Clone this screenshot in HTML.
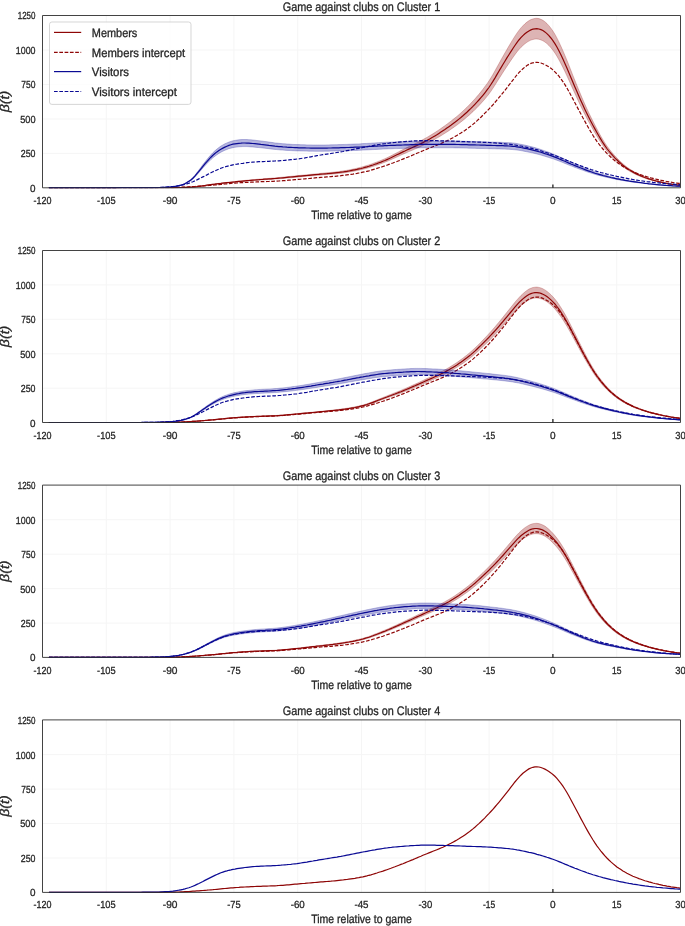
<!DOCTYPE html>
<html lang="en"><head><meta charset="utf-8"><title>Game against clubs</title>
<style>html,body{margin:0;padding:0;background:#fff}svg{display:block}text{font-family:"Liberation Sans",sans-serif;fill:#262626;stroke:#262626;stroke-width:.3px;text-rendering:geometricPrecision}</style></head><body>
<svg width="685" height="926" viewBox="0 0 685 926">
<rect width="685" height="926" fill="#fff"/>
<g>
<path d="M106.3,15.5 V187.8 M170.1,15.5 V187.8 M233.9,15.5 V187.8 M297.7,15.5 V187.8 M361.5,15.5 V187.8 M425.3,15.5 V187.8 M489.1,15.5 V187.8 M552.9,15.5 V187.8 M616.7,15.5 V187.8 M42.5,153.4 H680.5 M42.5,119 H680.5 M42.5,84.5 H680.5 M42.5,50 H680.5" stroke="#f5f5f5" stroke-width="1" fill="none"/>
<clipPath id="c0"><rect x="43" y="15.5" width="637" height="172.8"/></clipPath><g clip-path="url(#c0)" fill="none" stroke-width="1.2">
<path d="M48.9,187.8 50.9,187.8 52.9,187.8 54.9,187.8 56.9,187.8 58.9,187.8 60.9,187.8 62.9,187.8 64.9,187.8 66.9,187.8 68.9,187.8 70.9,187.8 72.9,187.8 74.9,187.8 76.9,187.8 78.9,187.8 80.9,187.8 82.9,187.8 84.9,187.8 86.9,187.8 88.9,187.8 90.9,187.8 92.9,187.8 94.9,187.8 96.9,187.8 98.9,187.8 100.9,187.8 102.9,187.8 104.9,187.8 106.9,187.8 108.9,187.8 110.9,187.8 112.9,187.8 114.9,187.8 116.9,187.8 118.9,187.7 120.9,187.7 122.9,187.7 124.9,187.7 126.9,187.7 128.9,187.7 130.9,187.7 132.9,187.7 134.9,187.7 136.9,187.7 138.9,187.7 140.9,187.7 142.9,187.7 144.9,187.7 146.9,187.7 148.9,187.7 150.9,187.7 152.9,187.7 154.9,187.7 156.9,187.7 158.9,187.7 160.9,187.7 162.9,187.7 164.9,187.7 166.9,187.7 168.9,187.7 170.9,187.6 172.9,187.6 174.9,187.6 176.9,187.5 178.9,187.5 180.9,187.5 182.9,187.4 184.9,187.3 186.9,187.3 188.9,187.2 190.9,187.1 192.9,187 194.9,186.8 196.9,186.6 198.9,186.3 200.9,186 202.9,185.7 204.9,185.4 206.9,185 208.9,184.7 210.9,184.4 212.9,184.1 214.9,183.8 216.9,183.6 218.9,183.3 220.9,183.1 222.9,182.8 224.9,182.6 226.9,182.4 228.9,182.1 230.9,181.9 232.9,181.7 234.9,181.5 236.9,181.3 238.9,181 240.9,180.8 242.9,180.6 244.9,180.4 246.9,180.2 248.9,180 250.9,179.8 252.9,179.7 254.9,179.5 256.9,179.3 258.9,179.1 260.9,179 262.9,178.8 264.9,178.7 266.9,178.5 268.9,178.4 270.9,178.2 272.9,178 274.9,177.9 276.9,177.7 278.9,177.5 280.9,177.3 282.9,177.1 284.9,176.9 286.9,176.7 288.9,176.5 290.9,176.3 292.9,176.1 294.9,175.9 296.9,175.7 298.9,175.5 300.9,175.3 302.9,175.1 304.9,174.9 306.9,174.7 308.9,174.5 310.9,174.3 312.9,174.1 314.9,173.9 316.9,173.7 318.9,173.5 320.9,173.3 322.9,173.1 324.9,172.9 326.9,172.7 328.9,172.6 330.9,172.4 332.9,172.2 334.9,172 336.9,171.7 338.9,171.5 340.9,171.2 342.9,170.9 344.9,170.6 346.9,170.3 348.9,169.9 350.9,169.5 352.9,169.1 354.9,168.7 356.9,168.2 358.9,167.7 360.9,167.2 362.9,166.7 364.9,166.1 366.9,165.5 368.9,164.9 370.9,164.2 372.9,163.5 374.9,162.7 376.9,162 378.9,161.2 380.9,160.4 382.9,159.6 384.9,158.7 386.9,157.8 388.9,156.8 390.9,155.8 392.9,154.8 394.9,153.8 396.9,152.7 398.9,151.7 400.9,150.6 402.9,149.6 404.9,148.6 406.9,147.6 408.9,146.6 410.9,145.7 412.9,144.7 414.9,143.7 416.9,142.7 418.9,141.7 420.9,140.7 422.9,139.6 424.9,138.5 426.9,137.4 428.9,136.2 430.9,135 432.9,133.8 434.9,132.5 436.9,131.2 438.9,129.9 440.9,128.5 442.9,127.1 444.9,125.7 446.9,124.2 448.9,122.7 450.9,121.2 452.9,119.6 454.9,118 456.9,116.4 458.9,114.7 460.9,112.9 462.9,111.1 464.9,109.2 466.9,107.3 468.9,105.3 470.9,103.2 472.9,101.1 474.9,98.9 476.9,96.6 478.9,94.3 480.9,91.8 482.9,89.3 484.9,86.6 486.9,83.9 488.9,81 490.9,77.8 492.9,74.5 494.9,70.9 496.9,67.3 498.9,63.7 500.9,60.1 502.9,56.5 504.9,53 506.9,49.5 508.9,46.1 510.9,42.7 512.9,39.4 514.9,36.2 516.9,33.2 518.9,30.4 520.9,27.9 522.9,25.8 524.9,23.8 526.9,22.1 528.9,20.7 530.9,19.6 532.9,18.9 534.9,18.4 536.9,18.3 538.9,18.6 540.9,19.3 542.9,20.3 544.9,21.7 546.9,23.5 548.9,25.7 550.9,28.2 552.9,31 554.9,34.2 556.9,37.9 558.9,41.9 560.9,46.2 562.9,50.7 564.9,55.4 566.9,60.2 568.9,65.2 570.9,70.3 572.9,75.4 574.9,80.4 576.9,85.4 578.9,90.3 580.9,95.1 582.9,99.8 584.9,104.3 586.9,108.7 588.9,113 590.9,117.1 592.9,121.1 594.9,125.1 596.9,128.9 598.9,132.7 600.9,136.3 602.9,139.7 604.9,142.9 606.9,145.9 608.9,148.6 610.9,151.2 612.9,153.6 614.9,155.8 616.9,157.9 618.9,160 620.9,161.9 622.9,163.7 624.9,165.4 626.9,167 628.9,168.4 630.9,169.7 632.9,171 634.9,172.1 636.9,173.2 638.9,174.2 640.9,175.1 642.9,176 644.9,176.8 646.9,177.6 648.9,178.3 650.9,179 652.9,179.6 654.9,180.2 656.9,180.7 658.9,181.3 660.9,181.8 662.9,182.2 664.9,182.7 666.9,183.1 668.9,183.5 670.9,183.9 672.9,184.2 674.9,184.5 676.9,184.7 678.9,185 680.4,185.1 L680.4,185.4 678.9,185.3 676.9,185.1 674.9,184.9 672.9,184.6 670.9,184.3 668.9,184 666.9,183.7 664.9,183.3 662.9,182.9 660.9,182.5 658.9,182 656.9,181.6 654.9,181.1 652.9,180.6 650.9,180.1 648.9,179.5 646.9,178.9 644.9,178.2 642.9,177.5 640.9,176.7 638.9,175.9 636.9,175 634.9,174 632.9,173 630.9,171.9 628.9,170.8 626.9,169.5 624.9,168.1 622.9,166.6 620.9,165 618.9,163.4 616.9,161.6 614.9,159.7 612.9,157.7 610.9,155.6 608.9,153.4 606.9,151 604.9,148.4 602.9,145.6 600.9,142.6 598.9,139.4 596.9,136.1 594.9,132.7 592.9,129.3 590.9,125.7 588.9,122.1 586.9,118.4 584.9,114.5 582.9,110.5 580.9,106.4 578.9,102.2 576.9,97.9 574.9,93.5 572.9,89.1 570.9,84.7 568.9,80.2 566.9,75.8 564.9,71.5 562.9,67.4 560.9,63.5 558.9,59.7 556.9,56.2 554.9,53 552.9,50.2 550.9,47.7 548.9,45.5 546.9,43.6 544.9,42 542.9,40.8 540.9,39.9 538.9,39.3 536.9,39 534.9,39.1 532.9,39.5 530.9,40.1 528.9,41.1 526.9,42.3 524.9,43.8 522.9,45.5 520.9,47.4 518.9,49.6 516.9,52 514.9,54.7 512.9,57.5 510.9,60.4 508.9,63.4 506.9,66.4 504.9,69.4 502.9,72.5 500.9,75.7 498.9,78.8 496.9,82 494.9,85.2 492.9,88.3 490.9,91.3 488.9,94 486.9,96.6 484.9,99 482.9,101.3 480.9,103.5 478.9,105.7 476.9,107.8 474.9,109.7 472.9,111.7 470.9,113.5 468.9,115.4 466.9,117.1 464.9,118.8 462.9,120.4 460.9,122 458.9,123.6 456.9,125.1 454.9,126.5 452.9,127.9 450.9,129.3 448.9,130.7 446.9,132 444.9,133.3 442.9,134.5 440.9,135.8 438.9,137 436.9,138.1 434.9,139.3 432.9,140.4 430.9,141.5 428.9,142.5 426.9,143.5 424.9,144.5 422.9,145.5 420.9,146.4 418.9,147.3 416.9,148.2 414.9,149.1 412.9,149.9 410.9,150.8 408.9,151.6 406.9,152.5 404.9,153.4 402.9,154.2 400.9,155.1 398.9,156.1 396.9,157 394.9,157.9 392.9,158.8 390.9,159.7 388.9,160.6 386.9,161.4 384.9,162.2 382.9,163 380.9,163.7 378.9,164.4 376.9,165.1 374.9,165.8 372.9,166.4 370.9,167.1 368.9,167.7 366.9,168.2 364.9,168.8 362.9,169.3 360.9,169.7 358.9,170.2 356.9,170.6 354.9,171 352.9,171.4 350.9,171.7 348.9,172.1 346.9,172.4 344.9,172.7 342.9,173 340.9,173.3 338.9,173.5 336.9,173.7 334.9,173.9 332.9,174.1 330.9,174.3 328.9,174.4 326.9,174.6 324.9,174.7 322.9,174.9 320.9,175.1 318.9,175.2 316.9,175.4 314.9,175.6 312.9,175.8 310.9,175.9 308.9,176.1 306.9,176.3 304.9,176.5 302.9,176.6 300.9,176.8 298.9,177 296.9,177.2 294.9,177.3 292.9,177.5 290.9,177.7 288.9,177.9 286.9,178.1 284.9,178.2 282.9,178.4 280.9,178.6 278.9,178.8 276.9,178.9 274.9,179.1 272.9,179.2 270.9,179.4 268.9,179.5 266.9,179.6 264.9,179.8 262.9,179.9 260.9,180 258.9,180.2 256.9,180.3 254.9,180.5 252.9,180.6 250.9,180.8 248.9,181 246.9,181.1 244.9,181.3 242.9,181.5 240.9,181.7 238.9,181.9 236.9,182 234.9,182.2 232.9,182.4 230.9,182.6 228.9,182.8 226.9,183 224.9,183.2 222.9,183.4 220.9,183.7 218.9,183.9 216.9,184.1 214.9,184.3 212.9,184.6 210.9,184.8 208.9,185.1 206.9,185.4 204.9,185.7 202.9,185.9 200.9,186.2 198.9,186.5 196.9,186.7 194.9,186.9 192.9,187.1 190.9,187.2 188.9,187.3 186.9,187.3 184.9,187.4 182.9,187.4 180.9,187.5 178.9,187.5 176.9,187.6 174.9,187.6 172.9,187.6 170.9,187.6 168.9,187.7 166.9,187.7 164.9,187.7 162.9,187.7 160.9,187.7 158.9,187.7 156.9,187.7 154.9,187.7 152.9,187.7 150.9,187.7 148.9,187.7 146.9,187.7 144.9,187.7 142.9,187.7 140.9,187.7 138.9,187.7 136.9,187.7 134.9,187.7 132.9,187.7 130.9,187.7 128.9,187.7 126.9,187.7 124.9,187.7 122.9,187.7 120.9,187.7 118.9,187.7 116.9,187.8 114.9,187.8 112.9,187.8 110.9,187.8 108.9,187.8 106.9,187.8 104.9,187.8 102.9,187.8 100.9,187.8 98.9,187.8 96.9,187.8 94.9,187.8 92.9,187.8 90.9,187.8 88.9,187.8 86.9,187.8 84.9,187.8 82.9,187.8 80.9,187.8 78.9,187.8 76.9,187.8 74.9,187.8 72.9,187.8 70.9,187.8 68.9,187.8 66.9,187.8 64.9,187.8 62.9,187.8 60.9,187.8 58.9,187.8 56.9,187.8 54.9,187.8 52.9,187.8 50.9,187.8 48.9,187.8Z" fill="#8e0606" fill-opacity=".3" stroke="#8e0606" stroke-opacity=".3" stroke-width=".8"/>
<path d="M48.9,187.8 50.9,187.8 52.9,187.8 54.9,187.8 56.9,187.8 58.9,187.8 60.9,187.8 62.9,187.8 64.9,187.8 66.9,187.8 68.9,187.8 70.9,187.8 72.9,187.8 74.9,187.8 76.9,187.8 78.9,187.8 80.9,187.8 82.9,187.8 84.9,187.8 86.9,187.8 88.9,187.8 90.9,187.8 92.9,187.8 94.9,187.8 96.9,187.8 98.9,187.8 100.9,187.8 102.9,187.8 104.9,187.8 106.9,187.8 108.9,187.8 110.9,187.8 112.9,187.8 114.9,187.8 116.9,187.8 118.9,187.7 120.9,187.7 122.9,187.7 124.9,187.7 126.9,187.7 128.9,187.7 130.9,187.7 132.9,187.7 134.9,187.7 136.9,187.7 138.9,187.7 140.9,187.7 142.9,187.7 144.9,187.7 146.9,187.7 148.9,187.7 150.9,187.7 152.9,187.7 154.9,187.7 156.9,187.7 158.9,187.7 160.9,187.7 162.9,187.7 164.9,187.7 166.9,187.7 168.9,187.7 170.9,187.6 172.9,187.6 174.9,187.6 176.9,187.6 178.9,187.5 180.9,187.5 182.9,187.4 184.9,187.4 186.9,187.3 188.9,187.2 190.9,187.1 192.9,187 194.9,186.9 196.9,186.7 198.9,186.4 200.9,186.1 202.9,185.8 204.9,185.5 206.9,185.2 208.9,184.9 210.9,184.6 212.9,184.3 214.9,184.1 216.9,183.8 218.9,183.6 220.9,183.4 222.9,183.1 224.9,182.9 226.9,182.7 228.9,182.5 230.9,182.3 232.9,182.1 234.9,181.9 236.9,181.6 238.9,181.4 240.9,181.3 242.9,181.1 244.9,180.9 246.9,180.7 248.9,180.5 250.9,180.3 252.9,180.1 254.9,180 256.9,179.8 258.9,179.7 260.9,179.5 262.9,179.4 264.9,179.2 266.9,179.1 268.9,178.9 270.9,178.8 272.9,178.6 274.9,178.5 276.9,178.3 278.9,178.1 280.9,178 282.9,177.8 284.9,177.6 286.9,177.4 288.9,177.2 290.9,177 292.9,176.8 294.9,176.6 296.9,176.4 298.9,176.2 300.9,176.1 302.9,175.9 304.9,175.7 306.9,175.5 308.9,175.3 310.9,175.1 312.9,174.9 314.9,174.7 316.9,174.5 318.9,174.4 320.9,174.2 322.9,174 324.9,173.8 326.9,173.7 328.9,173.5 330.9,173.3 332.9,173.1 334.9,172.9 336.9,172.7 338.9,172.5 340.9,172.2 342.9,172 344.9,171.7 346.9,171.4 348.9,171 350.9,170.6 352.9,170.2 354.9,169.8 356.9,169.4 358.9,168.9 360.9,168.5 362.9,168 364.9,167.4 366.9,166.9 368.9,166.3 370.9,165.6 372.9,165 374.9,164.3 376.9,163.6 378.9,162.8 380.9,162.1 382.9,161.3 384.9,160.5 386.9,159.6 388.9,158.7 390.9,157.8 392.9,156.8 394.9,155.8 396.9,154.8 398.9,153.9 400.9,152.9 402.9,151.9 404.9,151 406.9,150 408.9,149.1 410.9,148.2 412.9,147.3 414.9,146.4 416.9,145.5 418.9,144.5 420.9,143.6 422.9,142.6 424.9,141.5 426.9,140.5 428.9,139.4 430.9,138.2 432.9,137.1 434.9,135.9 436.9,134.7 438.9,133.4 440.9,132.1 442.9,130.8 444.9,129.5 446.9,128.1 448.9,126.7 450.9,125.3 452.9,123.8 454.9,122.3 456.9,120.7 458.9,119.1 460.9,117.5 462.9,115.8 464.9,114 466.9,112.2 468.9,110.3 470.9,108.4 472.9,106.4 474.9,104.3 476.9,102.2 478.9,100 480.9,97.7 482.9,95.3 484.9,92.8 486.9,90.2 488.9,87.5 490.9,84.5 492.9,81.4 494.9,78.1 496.9,74.6 498.9,71.2 500.9,67.9 502.9,64.5 504.9,61.2 506.9,57.9 508.9,54.7 510.9,51.6 512.9,48.5 514.9,45.5 516.9,42.6 518.9,40 520.9,37.7 522.9,35.6 524.9,33.8 526.9,32.2 528.9,30.9 530.9,29.9 532.9,29.2 534.9,28.8 536.9,28.7 538.9,29 540.9,29.6 542.9,30.5 544.9,31.9 546.9,33.6 548.9,35.6 550.9,38 552.9,40.6 554.9,43.6 556.9,47 558.9,50.8 560.9,54.8 562.9,59.1 564.9,63.4 566.9,68 568.9,72.7 570.9,77.5 572.9,82.3 574.9,87 576.9,91.6 578.9,96.2 580.9,100.7 582.9,105.1 584.9,109.4 586.9,113.5 588.9,117.5 590.9,121.4 592.9,125.2 594.9,128.9 596.9,132.5 598.9,136 600.9,139.4 602.9,142.7 604.9,145.7 606.9,148.5 608.9,151 610.9,153.4 612.9,155.7 614.9,157.8 616.9,159.8 618.9,161.7 620.9,163.5 622.9,165.2 624.9,166.8 626.9,168.2 628.9,169.6 630.9,170.8 632.9,172 634.9,173.1 636.9,174.1 638.9,175 640.9,175.9 642.9,176.7 644.9,177.5 646.9,178.2 648.9,178.9 650.9,179.5 652.9,180.1 654.9,180.6 656.9,181.2 658.9,181.7 660.9,182.1 662.9,182.6 664.9,183 666.9,183.4 668.9,183.8 670.9,184.1 672.9,184.4 674.9,184.7 676.9,184.9 678.9,185.1 680.4,185.2" stroke="#8e0606"/>
<path d="M48.9,187.8 50.9,187.8 52.9,187.8 54.9,187.8 56.9,187.8 58.9,187.8 60.9,187.8 62.9,187.8 64.9,187.8 66.9,187.8 68.9,187.8 70.9,187.8 72.9,187.8 74.9,187.8 76.9,187.8 78.9,187.8 80.9,187.8 82.9,187.8 84.9,187.8 86.9,187.8 88.9,187.8 90.9,187.8 92.9,187.8 94.9,187.8 96.9,187.8 98.9,187.8 100.9,187.8 102.9,187.8 104.9,187.8 106.9,187.8 108.9,187.8 110.9,187.8 112.9,187.8 114.9,187.8 116.9,187.8 118.9,187.7 120.9,187.7 122.9,187.7 124.9,187.7 126.9,187.7 128.9,187.7 130.9,187.7 132.9,187.7 134.9,187.7 136.9,187.7 138.9,187.7 140.9,187.7 142.9,187.7 144.9,187.7 146.9,187.7 148.9,187.7 150.9,187.7 152.9,187.7 154.9,187.7 156.9,187.7 158.9,187.7 160.9,187.7 162.9,187.7 164.9,187.7 166.9,187.7 168.9,187.7 170.9,187.6 172.9,187.6 174.9,187.5 176.9,187.5 178.9,187.4 180.9,187.3 182.9,187.2 184.9,187.1 186.9,187 188.9,186.9 190.9,186.8 192.9,186.6 194.9,186.5 196.9,186.4 198.9,186.2 200.9,186.1 202.9,185.9 204.9,185.8 206.9,185.6 208.9,185.5 210.9,185.3 212.9,185.1 214.9,184.9 216.9,184.8 218.9,184.6 220.9,184.4 222.9,184.2 224.9,184 226.9,183.8 228.9,183.6 230.9,183.4 232.9,183.2 234.9,183.1 236.9,183 238.9,182.8 240.9,182.7 242.9,182.6 244.9,182.5 246.9,182.4 248.9,182.3 250.9,182.2 252.9,182.1 254.9,182 256.9,181.9 258.9,181.8 260.9,181.7 262.9,181.7 264.9,181.6 266.9,181.5 268.9,181.5 270.9,181.4 272.9,181.3 274.9,181.2 276.9,181.1 278.9,181 280.9,180.9 282.9,180.7 284.9,180.6 286.9,180.4 288.9,180.2 290.9,180.1 292.9,179.9 294.9,179.7 296.9,179.5 298.9,179.3 300.9,179.2 302.9,179 304.9,178.8 306.9,178.6 308.9,178.5 310.9,178.3 312.9,178.1 314.9,177.9 316.9,177.7 318.9,177.6 320.9,177.4 322.9,177.2 324.9,177.1 326.9,176.9 328.9,176.8 330.9,176.6 332.9,176.4 334.9,176.3 336.9,176.1 338.9,175.9 340.9,175.7 342.9,175.4 344.9,175.2 346.9,174.9 348.9,174.7 350.9,174.4 352.9,174.1 354.9,173.7 356.9,173.4 358.9,173 360.9,172.6 362.9,172.2 364.9,171.8 366.9,171.3 368.9,170.8 370.9,170.2 372.9,169.6 374.9,169 376.9,168.4 378.9,167.8 380.9,167.2 382.9,166.5 384.9,165.8 386.9,165.2 388.9,164.4 390.9,163.7 392.9,163 394.9,162.2 396.9,161.5 398.9,160.7 400.9,159.9 402.9,159.1 404.9,158.3 406.9,157.5 408.9,156.7 410.9,155.9 412.9,155 414.9,154.2 416.9,153.3 418.9,152.5 420.9,151.6 422.9,150.8 424.9,149.9 426.9,149.1 428.9,148.3 430.9,147.5 432.9,146.7 434.9,145.9 436.9,145.2 438.9,144.3 440.9,143.5 442.9,142.6 444.9,141.7 446.9,140.8 448.9,139.8 450.9,138.7 452.9,137.7 454.9,136.6 456.9,135.4 458.9,134.2 460.9,133 462.9,131.7 464.9,130.4 466.9,129 468.9,127.5 470.9,126 472.9,124.4 474.9,122.7 476.9,120.9 478.9,119 480.9,117.2 482.9,115.2 484.9,113.2 486.9,111.2 488.9,109.1 490.9,107 492.9,104.8 494.9,102.5 496.9,100.1 498.9,97.7 500.9,95.3 502.9,92.8 504.9,90.3 506.9,87.8 508.9,85.2 510.9,82.7 512.9,80.1 514.9,77.5 516.9,75 518.9,72.7 520.9,70.6 522.9,68.8 524.9,67.1 526.9,65.6 528.9,64.4 530.9,63.4 532.9,62.8 534.9,62.4 536.9,62.3 538.9,62.5 540.9,63 542.9,63.7 544.9,64.6 546.9,65.7 548.9,66.9 550.9,68.3 552.9,69.9 554.9,71.8 556.9,73.9 558.9,76.2 560.9,78.8 562.9,81.6 564.9,84.6 566.9,87.9 568.9,91.5 570.9,95.2 572.9,98.9 574.9,102.7 576.9,106.5 578.9,110.3 580.9,114 582.9,117.8 584.9,121.4 586.9,125 588.9,128.6 590.9,132 592.9,135.3 594.9,138.4 596.9,141.3 598.9,144 600.9,146.6 602.9,149 604.9,151.3 606.9,153.4 608.9,155.4 610.9,157.3 612.9,159.1 614.9,160.8 616.9,162.3 618.9,163.7 620.9,165.1 622.9,166.4 624.9,167.5 626.9,168.7 628.9,169.7 630.9,170.7 632.9,171.6 634.9,172.5 636.9,173.3 638.9,174.1 640.9,174.8 642.9,175.5 644.9,176.1 646.9,176.7 648.9,177.3 650.9,177.9 652.9,178.4 654.9,178.9 656.9,179.4 658.9,179.9 660.9,180.3 662.9,180.7 664.9,181.1 666.9,181.5 668.9,181.9 670.9,182.2 672.9,182.5 674.9,182.8 676.9,183.1 678.9,183.4 680.4,183.5" stroke="#8e0606" stroke-dasharray="3.7 1.6"/>
<path d="M48.9,187.8 50.9,187.8 52.9,187.8 54.9,187.8 56.9,187.8 58.9,187.8 60.9,187.8 62.9,187.8 64.9,187.8 66.9,187.8 68.9,187.8 70.9,187.8 72.9,187.8 74.9,187.8 76.9,187.8 78.9,187.8 80.9,187.8 82.9,187.8 84.9,187.8 86.9,187.8 88.9,187.8 90.9,187.8 92.9,187.8 94.9,187.8 96.9,187.8 98.9,187.8 100.9,187.8 102.9,187.8 104.9,187.8 106.9,187.8 108.9,187.8 110.9,187.8 112.9,187.8 114.9,187.8 116.9,187.8 118.9,187.7 120.9,187.7 122.9,187.7 124.9,187.7 126.9,187.7 128.9,187.7 130.9,187.7 132.9,187.7 134.9,187.7 136.9,187.7 138.9,187.7 140.9,187.7 142.9,187.7 144.9,187.7 146.9,187.7 148.9,187.6 150.9,187.6 152.9,187.6 154.9,187.6 156.9,187.6 158.9,187.5 160.9,187.5 162.9,187.4 164.9,187.3 166.9,187.1 168.9,187 170.9,186.8 172.9,186.6 174.9,186.3 176.9,185.9 178.9,185.5 180.9,185 182.9,184.3 184.9,183.3 186.9,182.2 188.9,180.8 190.9,179.3 192.9,177.4 194.9,175.2 196.9,172.6 198.9,170 200.9,167.3 202.9,164.6 204.9,162.1 206.9,159.5 208.9,157.1 210.9,154.8 212.9,152.7 214.9,150.8 216.9,149.1 218.9,147.5 220.9,146.1 222.9,144.9 224.9,143.8 226.9,142.9 228.9,142.1 230.9,141.4 232.9,140.8 234.9,140.4 236.9,140.1 238.9,139.8 240.9,139.6 242.9,139.5 244.9,139.5 246.9,139.5 248.9,139.7 250.9,139.8 252.9,140 254.9,140.2 256.9,140.5 258.9,140.7 260.9,140.9 262.9,141.2 264.9,141.5 266.9,141.7 268.9,142 270.9,142.3 272.9,142.6 274.9,142.9 276.9,143.1 278.9,143.3 280.9,143.5 282.9,143.7 284.9,143.8 286.9,144 288.9,144.1 290.9,144.3 292.9,144.4 294.9,144.5 296.9,144.6 298.9,144.6 300.9,144.7 302.9,144.7 304.9,144.8 306.9,144.9 308.9,144.9 310.9,144.9 312.9,145 314.9,145 316.9,145 318.9,145 320.9,145 322.9,145 324.9,145 326.9,144.9 328.9,144.9 330.9,144.8 332.9,144.8 334.9,144.7 336.9,144.7 338.9,144.6 340.9,144.6 342.9,144.5 344.9,144.4 346.9,144.4 348.9,144.3 350.9,144.2 352.9,144.1 354.9,144 356.9,143.9 358.9,143.9 360.9,143.8 362.9,143.6 364.9,143.5 366.9,143.4 368.9,143.3 370.9,143.2 372.9,143 374.9,142.9 376.9,142.8 378.9,142.7 380.9,142.5 382.9,142.4 384.9,142.3 386.9,142.2 388.9,142.2 390.9,142.1 392.9,142 394.9,141.9 396.9,141.8 398.9,141.8 400.9,141.7 402.9,141.6 404.9,141.5 406.9,141.5 408.9,141.4 410.9,141.3 412.9,141.2 414.9,141.2 416.9,141.1 418.9,141 420.9,141 422.9,140.9 424.9,140.9 426.9,140.9 428.9,140.9 430.9,140.9 432.9,140.9 434.9,140.9 436.9,140.9 438.9,140.9 440.9,140.9 442.9,140.9 444.9,140.9 446.9,140.9 448.9,140.9 450.9,141 452.9,141 454.9,141 456.9,141.1 458.9,141.1 460.9,141.2 462.9,141.2 464.9,141.3 466.9,141.3 468.9,141.4 470.9,141.4 472.9,141.5 474.9,141.5 476.9,141.6 478.9,141.7 480.9,141.7 482.9,141.8 484.9,141.9 486.9,141.9 488.9,142 490.9,142.1 492.9,142.1 494.9,142.2 496.9,142.2 498.9,142.3 500.9,142.3 502.9,142.4 504.9,142.5 506.9,142.6 508.9,142.7 510.9,142.8 512.9,143 514.9,143.2 516.9,143.5 518.9,143.9 520.9,144.3 522.9,144.7 524.9,145.1 526.9,145.6 528.9,146.1 530.9,146.6 532.9,147.1 534.9,147.6 536.9,148.2 538.9,148.8 540.9,149.5 542.9,150.2 544.9,150.9 546.9,151.6 548.9,152.3 550.9,153.1 552.9,153.9 554.9,154.7 556.9,155.6 558.9,156.4 560.9,157.4 562.9,158.3 564.9,159.3 566.9,160.2 568.9,161.2 570.9,162.1 572.9,163 574.9,163.9 576.9,164.8 578.9,165.6 580.9,166.5 582.9,167.3 584.9,168.2 586.9,169 588.9,169.8 590.9,170.6 592.9,171.3 594.9,172 596.9,172.7 598.9,173.3 600.9,173.9 602.9,174.5 604.9,175.1 606.9,175.6 608.9,176.1 610.9,176.7 612.9,177.1 614.9,177.6 616.9,178.1 618.9,178.5 620.9,178.9 622.9,179.3 624.9,179.7 626.9,180.1 628.9,180.4 630.9,180.8 632.9,181.1 634.9,181.4 636.9,181.8 638.9,182.1 640.9,182.4 642.9,182.6 644.9,182.9 646.9,183.2 648.9,183.5 650.9,183.7 652.9,183.9 654.9,184.2 656.9,184.4 658.9,184.6 660.9,184.8 662.9,184.9 664.9,185.1 666.9,185.3 668.9,185.4 670.9,185.6 672.9,185.7 674.9,185.8 676.9,185.9 678.9,186 680.4,186.1 L680.4,186.3 678.9,186.3 676.9,186.2 674.9,186.1 672.9,186 670.9,185.9 668.9,185.8 666.9,185.6 664.9,185.5 662.9,185.4 660.9,185.2 658.9,185 656.9,184.9 654.9,184.7 652.9,184.5 650.9,184.3 648.9,184.1 646.9,183.9 644.9,183.6 642.9,183.4 640.9,183.1 638.9,182.9 636.9,182.6 634.9,182.4 632.9,182.1 630.9,181.8 628.9,181.5 626.9,181.2 624.9,180.9 622.9,180.5 620.9,180.2 618.9,179.9 616.9,179.5 614.9,179.1 612.9,178.7 610.9,178.3 608.9,177.8 606.9,177.4 604.9,176.9 602.9,176.4 600.9,175.9 598.9,175.4 596.9,174.9 594.9,174.3 592.9,173.7 590.9,173.1 588.9,172.4 586.9,171.8 584.9,171.1 582.9,170.3 580.9,169.6 578.9,168.9 576.9,168.1 574.9,167.4 572.9,166.6 570.9,165.8 568.9,165.1 566.9,164.2 564.9,163.4 562.9,162.6 560.9,161.8 558.9,161 556.9,160.3 554.9,159.5 552.9,158.8 550.9,158.2 548.9,157.5 546.9,156.9 544.9,156.3 542.9,155.7 540.9,155.1 538.9,154.5 536.9,154 534.9,153.5 532.9,153 530.9,152.6 528.9,152.2 526.9,151.8 524.9,151.4 522.9,151 520.9,150.6 518.9,150.3 516.9,150 514.9,149.8 512.9,149.6 510.9,149.4 508.9,149.3 506.9,149.2 504.9,149.1 502.9,149.1 500.9,149 498.9,148.9 496.9,148.9 494.9,148.8 492.9,148.8 490.9,148.7 488.9,148.7 486.9,148.6 484.9,148.6 482.9,148.5 480.9,148.5 478.9,148.4 476.9,148.4 474.9,148.3 472.9,148.3 470.9,148.2 468.9,148.2 466.9,148.1 464.9,148.1 462.9,148 460.9,148 458.9,147.9 456.9,147.9 454.9,147.9 452.9,147.8 450.9,147.8 448.9,147.8 446.9,147.8 444.9,147.8 442.9,147.8 440.9,147.8 438.9,147.8 436.9,147.8 434.9,147.8 432.9,147.8 430.9,147.8 428.9,147.8 426.9,147.8 424.9,147.8 422.9,147.8 420.9,147.8 418.9,147.9 416.9,147.9 414.9,148 412.9,148 410.9,148.1 408.9,148.2 406.9,148.2 404.9,148.3 402.9,148.4 400.9,148.4 398.9,148.5 396.9,148.6 394.9,148.6 392.9,148.7 390.9,148.8 388.9,148.8 386.9,148.9 384.9,149 382.9,149.1 380.9,149.2 378.9,149.3 376.9,149.4 374.9,149.5 372.9,149.6 370.9,149.7 368.9,149.8 366.9,149.9 364.9,150 362.9,150.1 360.9,150.2 358.9,150.3 356.9,150.4 354.9,150.4 352.9,150.5 350.9,150.6 348.9,150.7 346.9,150.7 344.9,150.8 342.9,150.8 340.9,150.9 338.9,150.9 336.9,151 334.9,151 332.9,151.1 330.9,151.1 328.9,151.2 326.9,151.2 324.9,151.2 322.9,151.3 320.9,151.3 318.9,151.3 316.9,151.3 314.9,151.3 312.9,151.2 310.9,151.2 308.9,151.2 306.9,151.1 304.9,151.1 302.9,151 300.9,151 298.9,150.9 296.9,150.9 294.9,150.8 292.9,150.7 290.9,150.6 288.9,150.5 286.9,150.4 284.9,150.3 282.9,150.1 280.9,150 278.9,149.8 276.9,149.6 274.9,149.4 272.9,149.2 270.9,149 268.9,148.7 266.9,148.5 264.9,148.2 262.9,148 260.9,147.8 258.9,147.6 256.9,147.4 254.9,147.2 252.9,147 250.9,146.9 248.9,146.7 246.9,146.6 244.9,146.6 242.9,146.6 240.9,146.7 238.9,146.8 236.9,147.1 234.9,147.3 232.9,147.7 230.9,148.2 228.9,148.7 226.9,149.5 224.9,150.3 222.9,151.2 220.9,152.2 218.9,153.4 216.9,154.8 214.9,156.2 212.9,157.8 210.9,159.6 208.9,161.6 206.9,163.6 204.9,165.8 202.9,168 200.9,170.3 198.9,172.6 196.9,174.9 194.9,177 192.9,178.9 190.9,180.5 188.9,181.9 186.9,183 184.9,184 182.9,184.8 180.9,185.4 178.9,185.8 176.9,186.2 174.9,186.5 172.9,186.7 170.9,186.9 168.9,187.1 166.9,187.2 164.9,187.3 162.9,187.4 160.9,187.5 158.9,187.6 156.9,187.6 154.9,187.6 152.9,187.6 150.9,187.6 148.9,187.7 146.9,187.7 144.9,187.7 142.9,187.7 140.9,187.7 138.9,187.7 136.9,187.7 134.9,187.7 132.9,187.7 130.9,187.7 128.9,187.7 126.9,187.7 124.9,187.7 122.9,187.7 120.9,187.7 118.9,187.7 116.9,187.8 114.9,187.8 112.9,187.8 110.9,187.8 108.9,187.8 106.9,187.8 104.9,187.8 102.9,187.8 100.9,187.8 98.9,187.8 96.9,187.8 94.9,187.8 92.9,187.8 90.9,187.8 88.9,187.8 86.9,187.8 84.9,187.8 82.9,187.8 80.9,187.8 78.9,187.8 76.9,187.8 74.9,187.8 72.9,187.8 70.9,187.8 68.9,187.8 66.9,187.8 64.9,187.8 62.9,187.8 60.9,187.8 58.9,187.8 56.9,187.8 54.9,187.8 52.9,187.8 50.9,187.8 48.9,187.8Z" fill="#0a0a94" fill-opacity=".3" stroke="#0a0a94" stroke-opacity=".3" stroke-width=".8"/>
<path d="M48.9,187.8 50.9,187.8 52.9,187.8 54.9,187.8 56.9,187.8 58.9,187.8 60.9,187.8 62.9,187.8 64.9,187.8 66.9,187.8 68.9,187.8 70.9,187.8 72.9,187.8 74.9,187.8 76.9,187.8 78.9,187.8 80.9,187.8 82.9,187.8 84.9,187.8 86.9,187.8 88.9,187.8 90.9,187.8 92.9,187.8 94.9,187.8 96.9,187.8 98.9,187.8 100.9,187.8 102.9,187.8 104.9,187.8 106.9,187.8 108.9,187.8 110.9,187.8 112.9,187.8 114.9,187.8 116.9,187.8 118.9,187.7 120.9,187.7 122.9,187.7 124.9,187.7 126.9,187.7 128.9,187.7 130.9,187.7 132.9,187.7 134.9,187.7 136.9,187.7 138.9,187.7 140.9,187.7 142.9,187.7 144.9,187.7 146.9,187.7 148.9,187.6 150.9,187.6 152.9,187.6 154.9,187.6 156.9,187.6 158.9,187.5 160.9,187.5 162.9,187.4 164.9,187.3 166.9,187.2 168.9,187 170.9,186.9 172.9,186.6 174.9,186.4 176.9,186.1 178.9,185.7 180.9,185.2 182.9,184.5 184.9,183.7 186.9,182.6 188.9,181.3 190.9,179.9 192.9,178.2 194.9,176.1 196.9,173.7 198.9,171.3 200.9,168.8 202.9,166.3 204.9,163.9 206.9,161.6 208.9,159.3 210.9,157.2 212.9,155.3 214.9,153.5 216.9,151.9 218.9,150.5 220.9,149.2 222.9,148.1 224.9,147.1 226.9,146.2 228.9,145.4 230.9,144.8 232.9,144.2 234.9,143.9 236.9,143.6 238.9,143.3 240.9,143.2 242.9,143 244.9,143 246.9,143.1 248.9,143.2 250.9,143.3 252.9,143.5 254.9,143.7 256.9,143.9 258.9,144.1 260.9,144.4 262.9,144.6 264.9,144.8 266.9,145.1 268.9,145.4 270.9,145.6 272.9,145.9 274.9,146.2 276.9,146.4 278.9,146.6 280.9,146.7 282.9,146.9 284.9,147 286.9,147.2 288.9,147.3 290.9,147.4 292.9,147.5 294.9,147.6 296.9,147.7 298.9,147.8 300.9,147.8 302.9,147.9 304.9,147.9 306.9,148 308.9,148 310.9,148.1 312.9,148.1 314.9,148.1 316.9,148.1 318.9,148.1 320.9,148.1 322.9,148.1 324.9,148.1 326.9,148.1 328.9,148 330.9,148 332.9,147.9 334.9,147.9 336.9,147.8 338.9,147.8 340.9,147.7 342.9,147.7 344.9,147.6 346.9,147.5 348.9,147.5 350.9,147.4 352.9,147.3 354.9,147.2 356.9,147.2 358.9,147.1 360.9,147 362.9,146.9 364.9,146.8 366.9,146.7 368.9,146.5 370.9,146.4 372.9,146.3 374.9,146.2 376.9,146.1 378.9,146 380.9,145.8 382.9,145.8 384.9,145.7 386.9,145.6 388.9,145.5 390.9,145.4 392.9,145.3 394.9,145.3 396.9,145.2 398.9,145.1 400.9,145.1 402.9,145 404.9,144.9 406.9,144.8 408.9,144.8 410.9,144.7 412.9,144.6 414.9,144.6 416.9,144.5 418.9,144.4 420.9,144.4 422.9,144.4 424.9,144.4 426.9,144.4 428.9,144.4 430.9,144.4 432.9,144.4 434.9,144.4 436.9,144.4 438.9,144.4 440.9,144.4 442.9,144.4 444.9,144.4 446.9,144.4 448.9,144.4 450.9,144.4 452.9,144.4 454.9,144.4 456.9,144.5 458.9,144.5 460.9,144.6 462.9,144.6 464.9,144.7 466.9,144.7 468.9,144.8 470.9,144.8 472.9,144.9 474.9,144.9 476.9,145 478.9,145 480.9,145.1 482.9,145.2 484.9,145.2 486.9,145.3 488.9,145.3 490.9,145.4 492.9,145.5 494.9,145.5 496.9,145.6 498.9,145.6 500.9,145.7 502.9,145.7 504.9,145.8 506.9,145.9 508.9,146 510.9,146.1 512.9,146.3 514.9,146.5 516.9,146.8 518.9,147.1 520.9,147.5 522.9,147.8 524.9,148.3 526.9,148.7 528.9,149.1 530.9,149.6 532.9,150.1 534.9,150.6 536.9,151.1 538.9,151.7 540.9,152.3 542.9,152.9 544.9,153.6 546.9,154.2 548.9,154.9 550.9,155.6 552.9,156.4 554.9,157.1 556.9,157.9 558.9,158.7 560.9,159.6 562.9,160.5 564.9,161.3 566.9,162.2 568.9,163.1 570.9,164 572.9,164.8 574.9,165.6 576.9,166.4 578.9,167.2 580.9,168 582.9,168.8 584.9,169.6 586.9,170.4 588.9,171.1 590.9,171.8 592.9,172.5 594.9,173.2 596.9,173.8 598.9,174.4 600.9,174.9 602.9,175.5 604.9,176 606.9,176.5 608.9,177 610.9,177.5 612.9,177.9 614.9,178.4 616.9,178.8 618.9,179.2 620.9,179.6 622.9,179.9 624.9,180.3 626.9,180.6 628.9,181 630.9,181.3 632.9,181.6 634.9,181.9 636.9,182.2 638.9,182.5 640.9,182.7 642.9,183 644.9,183.3 646.9,183.5 648.9,183.8 650.9,184 652.9,184.2 654.9,184.4 656.9,184.6 658.9,184.8 660.9,185 662.9,185.1 664.9,185.3 666.9,185.5 668.9,185.6 670.9,185.7 672.9,185.9 674.9,186 676.9,186.1 678.9,186.2 680.4,186.2" stroke="#0a0a94"/>
<path d="M48.9,187.8 50.9,187.8 52.9,187.8 54.9,187.8 56.9,187.8 58.9,187.8 60.9,187.8 62.9,187.8 64.9,187.8 66.9,187.8 68.9,187.8 70.9,187.8 72.9,187.8 74.9,187.8 76.9,187.8 78.9,187.8 80.9,187.8 82.9,187.8 84.9,187.8 86.9,187.8 88.9,187.8 90.9,187.8 92.9,187.8 94.9,187.8 96.9,187.8 98.9,187.8 100.9,187.8 102.9,187.8 104.9,187.8 106.9,187.8 108.9,187.8 110.9,187.8 112.9,187.8 114.9,187.8 116.9,187.8 118.9,187.7 120.9,187.7 122.9,187.7 124.9,187.7 126.9,187.7 128.9,187.7 130.9,187.7 132.9,187.7 134.9,187.7 136.9,187.7 138.9,187.7 140.9,187.7 142.9,187.7 144.9,187.7 146.9,187.7 148.9,187.6 150.9,187.6 152.9,187.6 154.9,187.6 156.9,187.5 158.9,187.5 160.9,187.4 162.9,187.3 164.9,187.2 166.9,187.1 168.9,186.9 170.9,186.8 172.9,186.5 174.9,186.3 176.9,186 178.9,185.7 180.9,185.3 182.9,184.8 184.9,184.3 186.9,183.8 188.9,183.2 190.9,182.5 192.9,181.7 194.9,180.8 196.9,179.9 198.9,178.9 200.9,177.9 202.9,176.9 204.9,175.9 206.9,174.9 208.9,173.8 210.9,172.8 212.9,171.8 214.9,170.9 216.9,170 218.9,169.1 220.9,168.3 222.9,167.5 224.9,166.9 226.9,166.3 228.9,165.8 230.9,165.3 232.9,164.9 234.9,164.5 236.9,164.2 238.9,163.8 240.9,163.5 242.9,163.3 244.9,163 246.9,162.7 248.9,162.5 250.9,162.3 252.9,162.1 254.9,162 256.9,161.9 258.9,161.7 260.9,161.6 262.9,161.6 264.9,161.5 266.9,161.4 268.9,161.3 270.9,161.2 272.9,161.1 274.9,161 276.9,160.9 278.9,160.8 280.9,160.6 282.9,160.5 284.9,160.3 286.9,160.1 288.9,159.9 290.9,159.7 292.9,159.5 294.9,159.3 296.9,159 298.9,158.8 300.9,158.5 302.9,158.2 304.9,157.9 306.9,157.5 308.9,157.2 310.9,156.8 312.9,156.4 314.9,156.1 316.9,155.7 318.9,155.4 320.9,155 322.9,154.7 324.9,154.4 326.9,154.1 328.9,153.8 330.9,153.5 332.9,153.2 334.9,152.8 336.9,152.5 338.9,152.2 340.9,151.8 342.9,151.5 344.9,151.1 346.9,150.7 348.9,150.3 350.9,149.9 352.9,149.5 354.9,149.1 356.9,148.7 358.9,148.3 360.9,147.9 362.9,147.5 364.9,147.1 366.9,146.7 368.9,146.3 370.9,146 372.9,145.6 374.9,145.2 376.9,144.9 378.9,144.5 380.9,144.2 382.9,143.9 384.9,143.7 386.9,143.4 388.9,143.2 390.9,142.9 392.9,142.7 394.9,142.5 396.9,142.3 398.9,142.1 400.9,141.9 402.9,141.7 404.9,141.6 406.9,141.4 408.9,141.3 410.9,141.2 412.9,141 414.9,140.9 416.9,140.8 418.9,140.7 420.9,140.6 422.9,140.6 424.9,140.6 426.9,140.6 428.9,140.6 430.9,140.6 432.9,140.6 434.9,140.7 436.9,140.7 438.9,140.8 440.9,140.8 442.9,140.9 444.9,140.9 446.9,141 448.9,141 450.9,141.1 452.9,141.2 454.9,141.2 456.9,141.3 458.9,141.4 460.9,141.5 462.9,141.6 464.9,141.6 466.9,141.7 468.9,141.8 470.9,141.9 472.9,141.9 474.9,142 476.9,142.1 478.9,142.1 480.9,142.2 482.9,142.3 484.9,142.4 486.9,142.4 488.9,142.5 490.9,142.7 492.9,142.8 494.9,142.9 496.9,143.1 498.9,143.2 500.9,143.4 502.9,143.6 504.9,143.8 506.9,144 508.9,144.2 510.9,144.4 512.9,144.7 514.9,145 516.9,145.3 518.9,145.7 520.9,146 522.9,146.4 524.9,146.9 526.9,147.3 528.9,147.7 530.9,148.2 532.9,148.7 534.9,149.2 536.9,149.7 538.9,150.3 540.9,150.8 542.9,151.5 544.9,152.1 546.9,152.7 548.9,153.4 550.9,154.1 552.9,154.8 554.9,155.5 556.9,156.2 558.9,157 560.9,157.9 562.9,158.7 564.9,159.5 566.9,160.4 568.9,161.2 570.9,162 572.9,162.8 574.9,163.6 576.9,164.4 578.9,165.1 580.9,165.9 582.9,166.6 584.9,167.4 586.9,168.1 588.9,168.8 590.9,169.5 592.9,170.1 594.9,170.8 596.9,171.4 598.9,171.9 600.9,172.5 602.9,173 604.9,173.6 606.9,174.1 608.9,174.5 610.9,175 612.9,175.5 614.9,175.9 616.9,176.4 618.9,176.8 620.9,177.2 622.9,177.6 624.9,178 626.9,178.4 628.9,178.8 630.9,179.2 632.9,179.5 634.9,179.9 636.9,180.2 638.9,180.5 640.9,180.8 642.9,181 644.9,181.3 646.9,181.6 648.9,181.8 650.9,182 652.9,182.3 654.9,182.5 656.9,182.7 658.9,182.9 660.9,183.1 662.9,183.3 664.9,183.5 666.9,183.7 668.9,183.9 670.9,184 672.9,184.2 674.9,184.3 676.9,184.5 678.9,184.6 680.4,184.7" stroke="#0a0a94" stroke-dasharray="3.7 1.6"/>
</g>
<path d="M42.5,15.5 H680.5 V187.8 H42.5 Z" fill="none" stroke="#2e2e2e" stroke-width=".9"/>
<path d="M552.9,184.4 V187.8" stroke="#111" stroke-width="1.2"/>
<text x="361.5" y="10.5" font-size="12.4" text-anchor="middle" textLength="157.6" lengthAdjust="spacingAndGlyphs">Game against clubs on Cluster 1</text>
<text x="361.5" y="218.8" font-size="12" text-anchor="middle" textLength="100.5" lengthAdjust="spacingAndGlyphs">Time relative to game</text>
<text transform="translate(9.2,101.6) rotate(-90)" font-size="13" font-style="italic" stroke-width=".12" text-anchor="middle" textLength="21.5" lengthAdjust="spacingAndGlyphs">β(t)</text>
<text x="42.5" y="203.8" font-size="10.3" text-anchor="middle" textLength="17.9" lengthAdjust="spacingAndGlyphs">-120</text>
<text x="106.3" y="203.8" font-size="10.3" text-anchor="middle" textLength="18.5" lengthAdjust="spacingAndGlyphs">-105</text>
<text x="170.1" y="203.8" font-size="10.3" text-anchor="middle" textLength="14.7" lengthAdjust="spacingAndGlyphs">-90</text>
<text x="233.9" y="203.8" font-size="10.3" text-anchor="middle" textLength="13.5" lengthAdjust="spacingAndGlyphs">-75</text>
<text x="297.7" y="203.8" font-size="10.3" text-anchor="middle" textLength="14.1" lengthAdjust="spacingAndGlyphs">-60</text>
<text x="361.5" y="203.8" font-size="10.3" text-anchor="middle" textLength="14.1" lengthAdjust="spacingAndGlyphs">-45</text>
<text x="425.3" y="203.8" font-size="10.3" text-anchor="middle" textLength="13.8" lengthAdjust="spacingAndGlyphs">-30</text>
<text x="489.1" y="203.8" font-size="10.3" text-anchor="middle" textLength="12.2" lengthAdjust="spacingAndGlyphs">-15</text>
<text x="552.9" y="203.8" font-size="10.3" text-anchor="middle" textLength="5.6" lengthAdjust="spacingAndGlyphs">0</text>
<text x="616.7" y="203.8" font-size="10.3" text-anchor="middle" textLength="9.5" lengthAdjust="spacingAndGlyphs">15</text>
<text x="680.5" y="203.8" font-size="10.3" text-anchor="middle" textLength="10.4" lengthAdjust="spacingAndGlyphs">30</text>
<text x="35.5" y="191.8" font-size="10.3" text-anchor="end" textLength="5.5" lengthAdjust="spacingAndGlyphs">0</text>
<text x="35.5" y="157.3" font-size="10.3" text-anchor="end" textLength="14.7" lengthAdjust="spacingAndGlyphs">250</text>
<text x="35.5" y="122.8" font-size="10.3" text-anchor="end" textLength="15.3" lengthAdjust="spacingAndGlyphs">500</text>
<text x="35.5" y="88.3" font-size="10.3" text-anchor="end" textLength="14.2" lengthAdjust="spacingAndGlyphs">750</text>
<text x="35.5" y="53.9" font-size="10.3" text-anchor="end" textLength="19.7" lengthAdjust="spacingAndGlyphs">1000</text>
<text x="35.5" y="19.4" font-size="10.3" text-anchor="end" textLength="17.8" lengthAdjust="spacingAndGlyphs">1250</text>
</g>
<g>
<path d="M106.3,250.5 V422.5 M170.1,250.5 V422.5 M233.9,250.5 V422.5 M297.7,250.5 V422.5 M361.5,250.5 V422.5 M425.3,250.5 V422.5 M489.1,250.5 V422.5 M552.9,250.5 V422.5 M616.7,250.5 V422.5 M42.5,388.2 H680.5 M42.5,353.8 H680.5 M42.5,319.3 H680.5 M42.5,284.9 H680.5" stroke="#f5f5f5" stroke-width="1" fill="none"/>
<clipPath id="c1"><rect x="43" y="250.5" width="637" height="172.5"/></clipPath><g clip-path="url(#c1)" fill="none" stroke-width="1.2">
<path d="M48.9,422.5 50.9,422.5 52.9,422.5 54.9,422.5 56.9,422.5 58.9,422.5 60.9,422.5 62.9,422.5 64.9,422.5 66.9,422.5 68.9,422.5 70.9,422.5 72.9,422.5 74.9,422.5 76.9,422.5 78.9,422.5 80.9,422.5 82.9,422.5 84.9,422.5 86.9,422.5 88.9,422.5 90.9,422.5 92.9,422.5 94.9,422.5 96.9,422.5 98.9,422.5 100.9,422.5 102.9,422.5 104.9,422.5 106.9,422.5 108.9,422.5 110.9,422.5 112.9,422.5 114.9,422.5 116.9,422.5 118.9,422.5 120.9,422.5 122.9,422.5 124.9,422.5 126.9,422.5 128.9,422.5 130.9,422.5 132.9,422.5 134.9,422.5 136.9,422.5 138.9,422.5 140.9,422.5 142.9,422.5 144.9,422.5 146.9,422.5 148.9,422.5 150.9,422.5 152.9,422.5 154.9,422.5 156.9,422.5 158.9,422.5 160.9,422.4 162.9,422.4 164.9,422.4 166.9,422.4 168.9,422.4 170.9,422.4 172.9,422.3 174.9,422.3 176.9,422.2 178.9,422.1 180.9,422.1 182.9,422 184.9,421.9 186.9,421.7 188.9,421.6 190.9,421.5 192.9,421.3 194.9,421.2 196.9,421 198.9,420.9 200.9,420.7 202.9,420.6 204.9,420.4 206.9,420.2 208.9,420 210.9,419.8 212.9,419.7 214.9,419.5 216.9,419.3 218.9,419.1 220.9,418.9 222.9,418.7 224.9,418.4 226.9,418.2 228.9,418 230.9,417.9 232.9,417.7 234.9,417.5 236.9,417.4 238.9,417.2 240.9,417.1 242.9,417 244.9,416.8 246.9,416.7 248.9,416.6 250.9,416.5 252.9,416.4 254.9,416.3 256.9,416.2 258.9,416.1 260.9,416 262.9,415.9 264.9,415.9 266.9,415.8 268.9,415.7 270.9,415.7 272.9,415.6 274.9,415.5 276.9,415.4 278.9,415.2 280.9,415.1 282.9,414.9 284.9,414.8 286.9,414.6 288.9,414.4 290.9,414.2 292.9,414 294.9,413.8 296.9,413.6 298.9,413.4 300.9,413.2 302.9,413 304.9,412.9 306.9,412.7 308.9,412.5 310.9,412.3 312.9,412.1 314.9,411.9 316.9,411.7 318.9,411.5 320.9,411.3 322.9,411.1 324.9,410.9 326.9,410.7 328.9,410.5 330.9,410.3 332.9,410 334.9,409.8 336.9,409.6 338.9,409.3 340.9,409.1 342.9,408.8 344.9,408.5 346.9,408.2 348.9,407.9 350.9,407.5 352.9,407.2 354.9,406.8 356.9,406.4 358.9,406 360.9,405.5 362.9,405 364.9,404.4 366.9,403.8 368.9,403.1 370.9,402.3 372.9,401.5 374.9,400.7 376.9,399.9 378.9,399.1 380.9,398.3 382.9,397.5 384.9,396.7 386.9,395.9 388.9,395.1 390.9,394.4 392.9,393.6 394.9,392.8 396.9,392 398.9,391.2 400.9,390.4 402.9,389.5 404.9,388.7 406.9,387.8 408.9,386.9 410.9,386 412.9,385.1 414.9,384.2 416.9,383.3 418.9,382.4 420.9,381.4 422.9,380.5 424.9,379.6 426.9,378.6 428.9,377.7 430.9,376.8 432.9,375.8 434.9,374.9 436.9,373.9 438.9,373 440.9,372 442.9,370.9 444.9,369.9 446.9,368.7 448.9,367.6 450.9,366.3 452.9,365.1 454.9,363.8 456.9,362.5 458.9,361.1 460.9,359.6 462.9,358.2 464.9,356.6 466.9,355.1 468.9,353.4 470.9,351.7 472.9,349.9 474.9,348.1 476.9,346.2 478.9,344.2 480.9,342.2 482.9,340.1 484.9,338 486.9,335.9 488.9,333.7 490.9,331.5 492.9,329.3 494.9,327 496.9,324.6 498.9,322.2 500.9,319.8 502.9,317.3 504.9,314.8 506.9,312.3 508.9,309.8 510.9,307.3 512.9,304.8 514.9,302.3 516.9,299.9 518.9,297.7 520.9,295.6 522.9,293.7 524.9,292 526.9,290.4 528.9,289.1 530.9,288.2 532.9,287.5 534.9,287.2 536.9,287.1 538.9,287.4 540.9,287.9 542.9,288.8 544.9,289.9 546.9,291.3 548.9,292.9 550.9,294.7 552.9,296.8 554.9,299.1 556.9,301.6 558.9,304.4 560.9,307.5 562.9,310.7 564.9,314.1 566.9,317.7 568.9,321.6 570.9,325.5 572.9,329.5 574.9,333.5 576.9,337.5 578.9,341.6 580.9,345.6 582.9,349.5 584.9,353.4 586.9,357.2 588.9,360.9 590.9,364.4 592.9,367.8 594.9,371.1 596.9,374.1 598.9,376.9 600.9,379.6 602.9,382.1 604.9,384.5 606.9,386.7 608.9,388.8 610.9,390.8 612.9,392.6 614.9,394.4 616.9,396 618.9,397.5 620.9,398.9 622.9,400.2 624.9,401.4 626.9,402.6 628.9,403.7 630.9,404.7 632.9,405.7 634.9,406.6 636.9,407.4 638.9,408.2 640.9,409 642.9,409.7 644.9,410.4 646.9,411 648.9,411.6 650.9,412.2 652.9,412.8 654.9,413.3 656.9,413.8 658.9,414.3 660.9,414.7 662.9,415.2 664.9,415.6 666.9,416 668.9,416.4 670.9,416.7 672.9,417.1 674.9,417.4 676.9,417.7 678.9,418 680.4,418.2 L680.4,418.5 678.9,418.4 676.9,418.1 674.9,417.8 672.9,417.5 670.9,417.2 668.9,416.9 666.9,416.5 664.9,416.1 662.9,415.8 660.9,415.4 658.9,414.9 656.9,414.5 654.9,414 652.9,413.5 650.9,413 648.9,412.5 646.9,411.9 644.9,411.3 642.9,410.7 640.9,410.1 638.9,409.4 636.9,408.6 634.9,407.9 632.9,407 630.9,406.1 628.9,405.2 626.9,404.2 624.9,403.1 622.9,402 620.9,400.8 618.9,399.5 616.9,398.1 614.9,396.6 612.9,395 610.9,393.3 608.9,391.5 606.9,389.6 604.9,387.5 602.9,385.4 600.9,383 598.9,380.6 596.9,378 594.9,375.2 592.9,372.2 590.9,369.1 588.9,365.8 586.9,362.4 584.9,359 582.9,355.4 580.9,351.8 578.9,348.1 576.9,344.4 574.9,340.7 572.9,337 570.9,333.3 568.9,329.7 566.9,326.2 564.9,322.9 562.9,319.7 560.9,316.8 558.9,314 556.9,311.4 554.9,309 552.9,306.9 550.9,305 548.9,303.3 546.9,301.8 544.9,300.6 542.9,299.5 540.9,298.8 538.9,298.3 536.9,298 534.9,298.1 532.9,298.4 530.9,299 528.9,299.9 526.9,301.1 524.9,302.5 522.9,304.1 520.9,305.8 518.9,307.7 516.9,309.8 514.9,312 512.9,314.3 510.9,316.6 508.9,318.9 506.9,321.2 504.9,323.5 502.9,325.8 500.9,328.1 498.9,330.3 496.9,332.5 494.9,334.7 492.9,336.8 490.9,338.9 488.9,340.9 486.9,342.9 484.9,344.8 482.9,346.7 480.9,348.6 478.9,350.5 476.9,352.3 474.9,354.1 472.9,355.8 470.9,357.4 468.9,359 466.9,360.5 464.9,362 462.9,363.4 460.9,364.7 458.9,366 456.9,367.3 454.9,368.5 452.9,369.7 450.9,370.9 448.9,372 446.9,373.1 444.9,374.1 442.9,375.1 440.9,376 438.9,377 436.9,377.9 434.9,378.7 432.9,379.6 430.9,380.5 428.9,381.3 426.9,382.2 424.9,383 422.9,383.9 420.9,384.8 418.9,385.6 416.9,386.5 414.9,387.3 412.9,388.2 410.9,389 408.9,389.8 406.9,390.6 404.9,391.4 402.9,392.2 400.9,393 398.9,393.7 396.9,394.4 394.9,395.2 392.9,395.9 390.9,396.6 388.9,397.3 386.9,398.1 384.9,398.8 382.9,399.5 380.9,400.2 378.9,400.9 376.9,401.7 374.9,402.5 372.9,403.2 370.9,403.9 368.9,404.6 366.9,405.3 364.9,405.9 362.9,406.4 360.9,406.9 358.9,407.3 356.9,407.7 354.9,408.1 352.9,408.4 350.9,408.8 348.9,409.1 346.9,409.4 344.9,409.6 342.9,409.9 340.9,410.1 338.9,410.4 336.9,410.6 334.9,410.8 332.9,411 330.9,411.2 328.9,411.4 326.9,411.6 324.9,411.8 322.9,412 320.9,412.2 318.9,412.4 316.9,412.5 314.9,412.7 312.9,412.9 310.9,413.1 308.9,413.3 306.9,413.5 304.9,413.6 302.9,413.8 300.9,414 298.9,414.2 296.9,414.3 294.9,414.5 292.9,414.7 290.9,414.9 288.9,415.1 286.9,415.2 284.9,415.4 282.9,415.6 280.9,415.7 278.9,415.8 276.9,415.9 274.9,416 272.9,416.1 270.9,416.2 268.9,416.3 266.9,416.3 264.9,416.4 262.9,416.5 260.9,416.5 258.9,416.6 256.9,416.7 254.9,416.8 252.9,416.9 250.9,417 248.9,417.1 246.9,417.2 244.9,417.3 242.9,417.4 240.9,417.5 238.9,417.7 236.9,417.8 234.9,417.9 232.9,418.1 230.9,418.2 228.9,418.4 226.9,418.6 224.9,418.8 222.9,419 220.9,419.2 218.9,419.3 216.9,419.5 214.9,419.7 212.9,419.9 210.9,420.1 208.9,420.2 206.9,420.4 204.9,420.6 202.9,420.7 200.9,420.9 198.9,421 196.9,421.2 194.9,421.3 192.9,421.4 190.9,421.6 188.9,421.7 186.9,421.8 184.9,421.9 182.9,422 180.9,422.1 178.9,422.2 176.9,422.2 174.9,422.3 172.9,422.4 170.9,422.4 168.9,422.4 166.9,422.4 164.9,422.4 162.9,422.4 160.9,422.5 158.9,422.5 156.9,422.5 154.9,422.5 152.9,422.5 150.9,422.5 148.9,422.5 146.9,422.5 144.9,422.5 142.9,422.5 140.9,422.5 138.9,422.5 136.9,422.5 134.9,422.5 132.9,422.5 130.9,422.5 128.9,422.5 126.9,422.5 124.9,422.5 122.9,422.5 120.9,422.5 118.9,422.5 116.9,422.5 114.9,422.5 112.9,422.5 110.9,422.5 108.9,422.5 106.9,422.5 104.9,422.5 102.9,422.5 100.9,422.5 98.9,422.5 96.9,422.5 94.9,422.5 92.9,422.5 90.9,422.5 88.9,422.5 86.9,422.5 84.9,422.5 82.9,422.5 80.9,422.5 78.9,422.5 76.9,422.5 74.9,422.5 72.9,422.5 70.9,422.5 68.9,422.5 66.9,422.5 64.9,422.5 62.9,422.5 60.9,422.5 58.9,422.5 56.9,422.5 54.9,422.5 52.9,422.5 50.9,422.5 48.9,422.5Z" fill="#8e0606" fill-opacity=".3" stroke="#8e0606" stroke-opacity=".3" stroke-width=".8"/>
<path d="M48.9,422.5 50.9,422.5 52.9,422.5 54.9,422.5 56.9,422.5 58.9,422.5 60.9,422.5 62.9,422.5 64.9,422.5 66.9,422.5 68.9,422.5 70.9,422.5 72.9,422.5 74.9,422.5 76.9,422.5 78.9,422.5 80.9,422.5 82.9,422.5 84.9,422.5 86.9,422.5 88.9,422.5 90.9,422.5 92.9,422.5 94.9,422.5 96.9,422.5 98.9,422.5 100.9,422.5 102.9,422.5 104.9,422.5 106.9,422.5 108.9,422.5 110.9,422.5 112.9,422.5 114.9,422.5 116.9,422.5 118.9,422.5 120.9,422.5 122.9,422.5 124.9,422.5 126.9,422.5 128.9,422.5 130.9,422.5 132.9,422.5 134.9,422.5 136.9,422.5 138.9,422.5 140.9,422.5 142.9,422.5 144.9,422.5 146.9,422.5 148.9,422.5 150.9,422.5 152.9,422.5 154.9,422.5 156.9,422.5 158.9,422.5 160.9,422.5 162.9,422.4 164.9,422.4 166.9,422.4 168.9,422.4 170.9,422.4 172.9,422.3 174.9,422.3 176.9,422.2 178.9,422.2 180.9,422.1 182.9,422 184.9,421.9 186.9,421.8 188.9,421.7 190.9,421.5 192.9,421.4 194.9,421.3 196.9,421.1 198.9,421 200.9,420.8 202.9,420.6 204.9,420.5 206.9,420.3 208.9,420.1 210.9,420 212.9,419.8 214.9,419.6 216.9,419.4 218.9,419.2 220.9,419 222.9,418.8 224.9,418.6 226.9,418.4 228.9,418.2 230.9,418.1 232.9,417.9 234.9,417.7 236.9,417.6 238.9,417.4 240.9,417.3 242.9,417.2 244.9,417.1 246.9,416.9 248.9,416.8 250.9,416.7 252.9,416.6 254.9,416.5 256.9,416.4 258.9,416.4 260.9,416.3 262.9,416.2 264.9,416.1 266.9,416.1 268.9,416 270.9,415.9 272.9,415.9 274.9,415.8 276.9,415.7 278.9,415.5 280.9,415.4 282.9,415.3 284.9,415.1 286.9,414.9 288.9,414.7 290.9,414.5 292.9,414.3 294.9,414.2 296.9,414 298.9,413.8 300.9,413.6 302.9,413.4 304.9,413.2 306.9,413.1 308.9,412.9 310.9,412.7 312.9,412.5 314.9,412.3 316.9,412.1 318.9,411.9 320.9,411.7 322.9,411.5 324.9,411.3 326.9,411.1 328.9,410.9 330.9,410.7 332.9,410.5 334.9,410.3 336.9,410.1 338.9,409.9 340.9,409.6 342.9,409.3 344.9,409.1 346.9,408.8 348.9,408.5 350.9,408.2 352.9,407.8 354.9,407.5 356.9,407.1 358.9,406.7 360.9,406.2 362.9,405.7 364.9,405.1 366.9,404.5 368.9,403.8 370.9,403.1 372.9,402.4 374.9,401.6 376.9,400.8 378.9,400 380.9,399.2 382.9,398.5 384.9,397.7 386.9,397 388.9,396.2 390.9,395.5 392.9,394.7 394.9,394 396.9,393.2 398.9,392.4 400.9,391.7 402.9,390.9 404.9,390 406.9,389.2 408.9,388.4 410.9,387.5 412.9,386.6 414.9,385.8 416.9,384.9 418.9,384 420.9,383.1 422.9,382.2 424.9,381.3 426.9,380.4 428.9,379.5 430.9,378.6 432.9,377.7 434.9,376.8 436.9,375.9 438.9,375 440.9,374 442.9,373 444.9,372 446.9,370.9 448.9,369.8 450.9,368.6 452.9,367.4 454.9,366.2 456.9,364.9 458.9,363.5 460.9,362.2 462.9,360.8 464.9,359.3 466.9,357.8 468.9,356.2 470.9,354.6 472.9,352.9 474.9,351.1 476.9,349.2 478.9,347.3 480.9,345.4 482.9,343.4 484.9,341.4 486.9,339.4 488.9,337.3 490.9,335.2 492.9,333 494.9,330.8 496.9,328.6 498.9,326.3 500.9,323.9 502.9,321.6 504.9,319.2 506.9,316.8 508.9,314.4 510.9,312 512.9,309.6 514.9,307.2 516.9,304.9 518.9,302.7 520.9,300.7 522.9,298.9 524.9,297.2 526.9,295.8 528.9,294.5 530.9,293.6 532.9,293 534.9,292.6 536.9,292.6 538.9,292.8 540.9,293.4 542.9,294.2 544.9,295.2 546.9,296.5 548.9,298.1 550.9,299.9 552.9,301.9 554.9,304 556.9,306.5 558.9,309.2 560.9,312.1 562.9,315.2 564.9,318.5 566.9,322 568.9,325.6 570.9,329.4 572.9,333.2 574.9,337.1 576.9,340.9 578.9,344.8 580.9,348.7 582.9,352.5 584.9,356.2 586.9,359.8 588.9,363.3 590.9,366.8 592.9,370 594.9,373.1 596.9,376 598.9,378.7 600.9,381.3 602.9,383.7 604.9,386 606.9,388.2 608.9,390.2 610.9,392.1 612.9,393.8 614.9,395.5 616.9,397.1 618.9,398.5 620.9,399.8 622.9,401.1 624.9,402.3 626.9,403.4 628.9,404.4 630.9,405.4 632.9,406.4 634.9,407.2 636.9,408 638.9,408.8 640.9,409.5 642.9,410.2 644.9,410.9 646.9,411.5 648.9,412.1 650.9,412.6 652.9,413.2 654.9,413.7 656.9,414.1 658.9,414.6 660.9,415 662.9,415.5 664.9,415.9 666.9,416.2 668.9,416.6 670.9,417 672.9,417.3 674.9,417.6 676.9,417.9 678.9,418.2 680.4,418.3" stroke="#8e0606"/>
<path d="M48.9,422.5 50.9,422.5 52.9,422.5 54.9,422.5 56.9,422.5 58.9,422.5 60.9,422.5 62.9,422.5 64.9,422.5 66.9,422.5 68.9,422.5 70.9,422.5 72.9,422.5 74.9,422.5 76.9,422.5 78.9,422.5 80.9,422.5 82.9,422.5 84.9,422.5 86.9,422.5 88.9,422.5 90.9,422.5 92.9,422.5 94.9,422.5 96.9,422.5 98.9,422.5 100.9,422.5 102.9,422.5 104.9,422.5 106.9,422.5 108.9,422.5 110.9,422.5 112.9,422.5 114.9,422.5 116.9,422.5 118.9,422.5 120.9,422.5 122.9,422.5 124.9,422.5 126.9,422.5 128.9,422.5 130.9,422.5 132.9,422.5 134.9,422.5 136.9,422.5 138.9,422.5 140.9,422.5 142.9,422.5 144.9,422.5 146.9,422.5 148.9,422.5 150.9,422.5 152.9,422.5 154.9,422.5 156.9,422.5 158.9,422.5 160.9,422.5 162.9,422.4 164.9,422.4 166.9,422.4 168.9,422.4 170.9,422.4 172.9,422.3 174.9,422.3 176.9,422.2 178.9,422.2 180.9,422.1 182.9,422 184.9,421.9 186.9,421.8 188.9,421.7 190.9,421.5 192.9,421.4 194.9,421.3 196.9,421.1 198.9,421 200.9,420.8 202.9,420.7 204.9,420.5 206.9,420.4 208.9,420.2 210.9,420 212.9,419.9 214.9,419.7 216.9,419.5 218.9,419.3 220.9,419.1 222.9,418.9 224.9,418.7 226.9,418.5 228.9,418.3 230.9,418.1 232.9,418 234.9,417.8 236.9,417.7 238.9,417.6 240.9,417.4 242.9,417.3 244.9,417.2 246.9,417.1 248.9,417 250.9,416.9 252.9,416.8 254.9,416.7 256.9,416.6 258.9,416.6 260.9,416.5 262.9,416.4 264.9,416.3 266.9,416.3 268.9,416.2 270.9,416.1 272.9,416.1 274.9,416 276.9,415.9 278.9,415.7 280.9,415.6 282.9,415.5 284.9,415.3 286.9,415.1 288.9,415 290.9,414.8 292.9,414.6 294.9,414.4 296.9,414.3 298.9,414.1 300.9,413.9 302.9,413.7 304.9,413.6 306.9,413.4 308.9,413.2 310.9,413 312.9,412.8 314.9,412.7 316.9,412.5 318.9,412.3 320.9,412.1 322.9,412 324.9,411.8 326.9,411.7 328.9,411.5 330.9,411.4 332.9,411.2 334.9,411 336.9,410.8 338.9,410.6 340.9,410.4 342.9,410.2 344.9,409.9 346.9,409.7 348.9,409.4 350.9,409.1 352.9,408.8 354.9,408.5 356.9,408.1 358.9,407.8 360.9,407.4 362.9,407 364.9,406.5 366.9,406.1 368.9,405.5 370.9,405 372.9,404.4 374.9,403.8 376.9,403.2 378.9,402.5 380.9,401.9 382.9,401.3 384.9,400.6 386.9,399.9 388.9,399.2 390.9,398.5 392.9,397.7 394.9,397 396.9,396.2 398.9,395.4 400.9,394.6 402.9,393.9 404.9,393.1 406.9,392.2 408.9,391.4 410.9,390.6 412.9,389.8 414.9,388.9 416.9,388.1 418.9,387.2 420.9,386.4 422.9,385.5 424.9,384.7 426.9,383.9 428.9,383.1 430.9,382.3 432.9,381.5 434.9,380.7 436.9,379.9 438.9,379.1 440.9,378.2 442.9,377.4 444.9,376.5 446.9,375.5 448.9,374.5 450.9,373.5 452.9,372.4 454.9,371.3 456.9,370.2 458.9,369 460.9,367.7 462.9,366.5 464.9,365.1 466.9,363.7 468.9,362.3 470.9,360.7 472.9,359.1 474.9,357.4 476.9,355.6 478.9,353.8 480.9,351.9 482.9,350 484.9,348 486.9,345.9 488.9,343.9 490.9,341.7 492.9,339.5 494.9,337.2 496.9,334.9 498.9,332.5 500.9,330.1 502.9,327.6 504.9,325.1 506.9,322.5 508.9,320 510.9,317.4 512.9,314.8 514.9,312.2 516.9,309.8 518.9,307.5 520.9,305.4 522.9,303.5 524.9,301.9 526.9,300.4 528.9,299.1 530.9,298.2 532.9,297.5 534.9,297.1 536.9,297 538.9,297.2 540.9,297.7 542.9,298.4 544.9,299.3 546.9,300.4 548.9,301.7 550.9,303.1 552.9,304.7 554.9,306.5 556.9,308.6 558.9,311 560.9,313.5 562.9,316.3 564.9,319.4 566.9,322.7 568.9,326.2 570.9,329.9 572.9,333.7 574.9,337.4 576.9,341.2 578.9,345 580.9,348.8 582.9,352.5 584.9,356.2 586.9,359.8 588.9,363.3 590.9,366.7 592.9,370 594.9,373.1 596.9,376 598.9,378.7 600.9,381.3 602.9,383.7 604.9,386 606.9,388.2 608.9,390.2 610.9,392.1 612.9,393.8 614.9,395.5 616.9,397.1 618.9,398.5 620.9,399.8 622.9,401.1 624.9,402.3 626.9,403.4 628.9,404.4 630.9,405.4 632.9,406.4 634.9,407.2 636.9,408 638.9,408.8 640.9,409.5 642.9,410.2 644.9,410.9 646.9,411.5 648.9,412.1 650.9,412.6 652.9,413.2 654.9,413.7 656.9,414.1 658.9,414.6 660.9,415 662.9,415.5 664.9,415.9 666.9,416.3 668.9,416.6 670.9,417 672.9,417.3 674.9,417.6 676.9,417.9 678.9,418.1 680.4,418.3" stroke="#8e0606" stroke-dasharray="3.7 1.6"/>
<path d="M48.9,422.5 50.9,422.5 52.9,422.5 54.9,422.5 56.9,422.5 58.9,422.5 60.9,422.5 62.9,422.5 64.9,422.5 66.9,422.5 68.9,422.5 70.9,422.5 72.9,422.5 74.9,422.5 76.9,422.5 78.9,422.5 80.9,422.5 82.9,422.5 84.9,422.5 86.9,422.5 88.9,422.5 90.9,422.5 92.9,422.5 94.9,422.5 96.9,422.5 98.9,422.5 100.9,422.5 102.9,422.5 104.9,422.5 106.9,422.5 108.9,422.5 110.9,422.5 112.9,422.5 114.9,422.5 116.9,422.5 118.9,422.5 120.9,422.5 122.9,422.5 124.9,422.5 126.9,422.5 128.9,422.5 130.9,422.5 132.9,422.5 134.9,422.5 136.9,422.5 138.9,422.5 140.9,422.5 142.9,422.4 144.9,422.4 146.9,422.4 148.9,422.4 150.9,422.4 152.9,422.3 154.9,422.3 156.9,422.2 158.9,422.2 160.9,422.1 162.9,422 164.9,422 166.9,421.8 168.9,421.7 170.9,421.6 172.9,421.4 174.9,421.2 176.9,420.9 178.9,420.6 180.9,420.3 182.9,419.8 184.9,419.2 186.9,418.6 188.9,417.8 190.9,416.9 192.9,415.8 194.9,414.6 196.9,413.2 198.9,411.7 200.9,410.2 202.9,408.7 204.9,407.3 206.9,405.8 208.9,404.4 210.9,403.1 212.9,401.8 214.9,400.6 216.9,399.4 218.9,398.3 220.9,397.3 222.9,396.4 224.9,395.6 226.9,394.9 228.9,394.2 230.9,393.6 232.9,393.1 234.9,392.6 236.9,392.2 238.9,391.8 240.9,391.4 242.9,391.1 244.9,390.8 246.9,390.6 248.9,390.4 250.9,390.2 252.9,390 254.9,389.8 256.9,389.7 258.9,389.5 260.9,389.4 262.9,389.3 264.9,389.2 266.9,389.1 268.9,389 270.9,388.9 272.9,388.8 274.9,388.6 276.9,388.5 278.9,388.3 280.9,388.1 282.9,387.9 284.9,387.7 286.9,387.4 288.9,387.2 290.9,386.9 292.9,386.6 294.9,386.4 296.9,386.1 298.9,385.8 300.9,385.5 302.9,385.2 304.9,384.8 306.9,384.5 308.9,384.2 310.9,383.8 312.9,383.4 314.9,383.1 316.9,382.7 318.9,382.4 320.9,382 322.9,381.7 324.9,381.3 326.9,381 328.9,380.6 330.9,380.3 332.9,379.9 334.9,379.5 336.9,379.2 338.9,378.8 340.9,378.4 342.9,378 344.9,377.6 346.9,377.2 348.9,376.8 350.9,376.4 352.9,376 354.9,375.6 356.9,375.2 358.9,374.8 360.9,374.4 362.9,374 364.9,373.6 366.9,373.3 368.9,372.9 370.9,372.5 372.9,372.2 374.9,371.8 376.9,371.5 378.9,371.2 380.9,370.9 382.9,370.7 384.9,370.5 386.9,370.3 388.9,370.1 390.9,369.9 392.9,369.7 394.9,369.6 396.9,369.4 398.9,369.3 400.9,369.2 402.9,369 404.9,368.9 406.9,368.8 408.9,368.7 410.9,368.5 412.9,368.5 414.9,368.4 416.9,368.4 418.9,368.4 420.9,368.4 422.9,368.5 424.9,368.5 426.9,368.6 428.9,368.7 430.9,368.8 432.9,368.9 434.9,368.9 436.9,369 438.9,369.2 440.9,369.3 442.9,369.4 444.9,369.5 446.9,369.6 448.9,369.8 450.9,369.9 452.9,370.1 454.9,370.3 456.9,370.5 458.9,370.7 460.9,370.8 462.9,371 464.9,371.2 466.9,371.4 468.9,371.6 470.9,371.8 472.9,372 474.9,372.2 476.9,372.4 478.9,372.6 480.9,372.8 482.9,373 484.9,373.2 486.9,373.4 488.9,373.6 490.9,373.8 492.9,374.1 494.9,374.3 496.9,374.5 498.9,374.7 500.9,374.9 502.9,375.2 504.9,375.4 506.9,375.7 508.9,376 510.9,376.3 512.9,376.7 514.9,377.1 516.9,377.5 518.9,377.9 520.9,378.4 522.9,378.9 524.9,379.5 526.9,380 528.9,380.5 530.9,381.1 532.9,381.7 534.9,382.2 536.9,382.8 538.9,383.4 540.9,384 542.9,384.7 544.9,385.3 546.9,386 548.9,386.7 550.9,387.4 552.9,388.1 554.9,388.9 556.9,389.7 558.9,390.5 560.9,391.3 562.9,392.2 564.9,393 566.9,393.9 568.9,394.8 570.9,395.6 572.9,396.5 574.9,397.3 576.9,398.1 578.9,398.9 580.9,399.7 582.9,400.5 584.9,401.3 586.9,402.1 588.9,402.8 590.9,403.5 592.9,404.2 594.9,404.9 596.9,405.5 598.9,406.1 600.9,406.7 602.9,407.3 604.9,407.8 606.9,408.4 608.9,408.9 610.9,409.4 612.9,409.9 614.9,410.4 616.9,410.9 618.9,411.3 620.9,411.8 622.9,412.2 624.9,412.6 626.9,413 628.9,413.4 630.9,413.8 632.9,414.2 634.9,414.5 636.9,414.9 638.9,415.2 640.9,415.5 642.9,415.8 644.9,416.1 646.9,416.3 648.9,416.6 650.9,416.9 652.9,417.1 654.9,417.3 656.9,417.6 658.9,417.8 660.9,418 662.9,418.2 664.9,418.4 666.9,418.6 668.9,418.8 670.9,419 672.9,419.1 674.9,419.3 676.9,419.5 678.9,419.6 680.4,419.7 L680.4,420 678.9,419.9 676.9,419.8 674.9,419.7 672.9,419.5 670.9,419.4 668.9,419.2 666.9,419.1 664.9,418.9 662.9,418.7 660.9,418.5 658.9,418.3 656.9,418.1 654.9,417.9 652.9,417.7 650.9,417.5 648.9,417.3 646.9,417.1 644.9,416.8 642.9,416.6 640.9,416.3 638.9,416.1 636.9,415.8 634.9,415.5 632.9,415.2 630.9,414.8 628.9,414.5 626.9,414.1 624.9,413.8 622.9,413.4 620.9,413 618.9,412.6 616.9,412.2 614.9,411.8 612.9,411.4 610.9,410.9 608.9,410.5 606.9,410 604.9,409.6 602.9,409.1 600.9,408.6 598.9,408 596.9,407.5 594.9,406.9 592.9,406.4 590.9,405.7 588.9,405.1 586.9,404.4 584.9,403.8 582.9,403.1 580.9,402.4 578.9,401.7 576.9,400.9 574.9,400.2 572.9,399.5 570.9,398.8 568.9,398 566.9,397.3 564.9,396.5 562.9,395.7 560.9,395 558.9,394.2 556.9,393.5 554.9,392.8 552.9,392.1 550.9,391.5 548.9,390.9 546.9,390.3 544.9,389.7 542.9,389.1 540.9,388.5 538.9,388 536.9,387.4 534.9,386.9 532.9,386.4 530.9,385.9 528.9,385.4 526.9,385 524.9,384.5 522.9,384 520.9,383.6 518.9,383.1 516.9,382.7 514.9,382.4 512.9,382 510.9,381.7 508.9,381.4 506.9,381.2 504.9,380.9 502.9,380.7 500.9,380.5 498.9,380.3 496.9,380.1 494.9,379.9 492.9,379.7 490.9,379.5 488.9,379.3 486.9,379.1 484.9,379 482.9,378.8 480.9,378.6 478.9,378.4 476.9,378.2 474.9,378.1 472.9,377.9 470.9,377.7 468.9,377.6 466.9,377.4 464.9,377.2 462.9,377.1 460.9,376.9 458.9,376.7 456.9,376.5 454.9,376.4 452.9,376.2 450.9,376.1 448.9,375.9 446.9,375.8 444.9,375.7 442.9,375.6 440.9,375.5 438.9,375.4 436.9,375.3 434.9,375.2 432.9,375.1 430.9,375 428.9,375 426.9,374.9 424.9,374.8 422.9,374.8 420.9,374.7 418.9,374.7 416.9,374.7 414.9,374.7 412.9,374.8 410.9,374.8 408.9,375 406.9,375.1 404.9,375.2 402.9,375.3 400.9,375.4 398.9,375.5 396.9,375.6 394.9,375.8 392.9,375.9 390.9,376 388.9,376.2 386.9,376.4 384.9,376.5 382.9,376.7 380.9,376.9 378.9,377.2 376.9,377.4 374.9,377.7 372.9,378 370.9,378.4 368.9,378.7 366.9,379 364.9,379.4 362.9,379.7 360.9,380 358.9,380.4 356.9,380.7 354.9,381.1 352.9,381.4 350.9,381.8 348.9,382.1 346.9,382.5 344.9,382.9 342.9,383.2 340.9,383.6 338.9,383.9 336.9,384.2 334.9,384.5 332.9,384.9 330.9,385.2 328.9,385.5 326.9,385.8 324.9,386.1 322.9,386.4 320.9,386.7 318.9,387.1 316.9,387.4 314.9,387.7 312.9,388 310.9,388.3 308.9,388.6 306.9,388.9 304.9,389.2 302.9,389.5 300.9,389.8 298.9,390.1 296.9,390.3 294.9,390.6 292.9,390.8 290.9,391.1 288.9,391.3 286.9,391.5 284.9,391.7 282.9,391.9 280.9,392.1 278.9,392.3 276.9,392.4 274.9,392.6 272.9,392.7 270.9,392.8 268.9,392.9 266.9,393 264.9,393.1 262.9,393.2 260.9,393.3 258.9,393.4 256.9,393.5 254.9,393.6 252.9,393.8 250.9,393.9 248.9,394.1 246.9,394.3 244.9,394.5 242.9,394.8 240.9,395 238.9,395.4 236.9,395.7 234.9,396.1 232.9,396.5 230.9,397 228.9,397.5 226.9,398.1 224.9,398.7 222.9,399.4 220.9,400.3 218.9,401.1 216.9,402.1 214.9,403.1 212.9,404.2 210.9,405.3 208.9,406.5 206.9,407.8 204.9,409 202.9,410.3 200.9,411.6 198.9,412.9 196.9,414.2 194.9,415.5 192.9,416.6 190.9,417.5 188.9,418.3 186.9,419 184.9,419.6 182.9,420.1 180.9,420.5 178.9,420.9 176.9,421.1 174.9,421.3 172.9,421.5 170.9,421.7 168.9,421.8 166.9,421.9 164.9,422 162.9,422.1 160.9,422.2 158.9,422.2 156.9,422.3 154.9,422.3 152.9,422.4 150.9,422.4 148.9,422.4 146.9,422.4 144.9,422.4 142.9,422.4 140.9,422.5 138.9,422.5 136.9,422.5 134.9,422.5 132.9,422.5 130.9,422.5 128.9,422.5 126.9,422.5 124.9,422.5 122.9,422.5 120.9,422.5 118.9,422.5 116.9,422.5 114.9,422.5 112.9,422.5 110.9,422.5 108.9,422.5 106.9,422.5 104.9,422.5 102.9,422.5 100.9,422.5 98.9,422.5 96.9,422.5 94.9,422.5 92.9,422.5 90.9,422.5 88.9,422.5 86.9,422.5 84.9,422.5 82.9,422.5 80.9,422.5 78.9,422.5 76.9,422.5 74.9,422.5 72.9,422.5 70.9,422.5 68.9,422.5 66.9,422.5 64.9,422.5 62.9,422.5 60.9,422.5 58.9,422.5 56.9,422.5 54.9,422.5 52.9,422.5 50.9,422.5 48.9,422.5Z" fill="#0a0a94" fill-opacity=".3" stroke="#0a0a94" stroke-opacity=".3" stroke-width=".8"/>
<path d="M48.9,422.5 50.9,422.5 52.9,422.5 54.9,422.5 56.9,422.5 58.9,422.5 60.9,422.5 62.9,422.5 64.9,422.5 66.9,422.5 68.9,422.5 70.9,422.5 72.9,422.5 74.9,422.5 76.9,422.5 78.9,422.5 80.9,422.5 82.9,422.5 84.9,422.5 86.9,422.5 88.9,422.5 90.9,422.5 92.9,422.5 94.9,422.5 96.9,422.5 98.9,422.5 100.9,422.5 102.9,422.5 104.9,422.5 106.9,422.5 108.9,422.5 110.9,422.5 112.9,422.5 114.9,422.5 116.9,422.5 118.9,422.5 120.9,422.5 122.9,422.5 124.9,422.5 126.9,422.5 128.9,422.5 130.9,422.5 132.9,422.5 134.9,422.5 136.9,422.5 138.9,422.5 140.9,422.5 142.9,422.4 144.9,422.4 146.9,422.4 148.9,422.4 150.9,422.4 152.9,422.3 154.9,422.3 156.9,422.3 158.9,422.2 160.9,422.1 162.9,422.1 164.9,422 166.9,421.9 168.9,421.8 170.9,421.6 172.9,421.5 174.9,421.3 176.9,421 178.9,420.7 180.9,420.4 182.9,420 184.9,419.4 186.9,418.8 188.9,418.1 190.9,417.2 192.9,416.2 194.9,415 196.9,413.7 198.9,412.3 200.9,410.9 202.9,409.5 204.9,408.2 206.9,406.8 208.9,405.5 210.9,404.2 212.9,403 214.9,401.9 216.9,400.8 218.9,399.7 220.9,398.8 222.9,397.9 224.9,397.2 226.9,396.5 228.9,395.8 230.9,395.3 232.9,394.8 234.9,394.3 236.9,393.9 238.9,393.6 240.9,393.2 242.9,392.9 244.9,392.7 246.9,392.4 248.9,392.2 250.9,392.1 252.9,391.9 254.9,391.7 256.9,391.6 258.9,391.5 260.9,391.4 262.9,391.3 264.9,391.2 266.9,391.1 268.9,391 270.9,390.8 272.9,390.7 274.9,390.6 276.9,390.5 278.9,390.3 280.9,390.1 282.9,389.9 284.9,389.7 286.9,389.5 288.9,389.2 290.9,389 292.9,388.7 294.9,388.5 296.9,388.2 298.9,387.9 300.9,387.6 302.9,387.3 304.9,387 306.9,386.7 308.9,386.4 310.9,386.1 312.9,385.7 314.9,385.4 316.9,385 318.9,384.7 320.9,384.4 322.9,384.1 324.9,383.7 326.9,383.4 328.9,383.1 330.9,382.7 332.9,382.4 334.9,382 336.9,381.7 338.9,381.3 340.9,381 342.9,380.6 344.9,380.2 346.9,379.9 348.9,379.5 350.9,379.1 352.9,378.7 354.9,378.3 356.9,377.9 358.9,377.6 360.9,377.2 362.9,376.9 364.9,376.5 366.9,376.1 368.9,375.8 370.9,375.4 372.9,375.1 374.9,374.8 376.9,374.5 378.9,374.2 380.9,373.9 382.9,373.7 384.9,373.5 386.9,373.3 388.9,373.1 390.9,373 392.9,372.8 394.9,372.7 396.9,372.5 398.9,372.4 400.9,372.3 402.9,372.2 404.9,372 406.9,371.9 408.9,371.8 410.9,371.7 412.9,371.6 414.9,371.6 416.9,371.5 418.9,371.5 420.9,371.6 422.9,371.6 424.9,371.7 426.9,371.8 428.9,371.8 430.9,371.9 432.9,372 434.9,372.1 436.9,372.2 438.9,372.3 440.9,372.4 442.9,372.5 444.9,372.6 446.9,372.7 448.9,372.9 450.9,373 452.9,373.2 454.9,373.3 456.9,373.5 458.9,373.7 460.9,373.9 462.9,374 464.9,374.2 466.9,374.4 468.9,374.6 470.9,374.8 472.9,375 474.9,375.1 476.9,375.3 478.9,375.5 480.9,375.7 482.9,375.9 484.9,376.1 486.9,376.3 488.9,376.5 490.9,376.7 492.9,376.9 494.9,377.1 496.9,377.3 498.9,377.5 500.9,377.7 502.9,377.9 504.9,378.2 506.9,378.4 508.9,378.7 510.9,379 512.9,379.3 514.9,379.7 516.9,380.1 518.9,380.5 520.9,381 522.9,381.5 524.9,382 526.9,382.5 528.9,383 530.9,383.5 532.9,384 534.9,384.6 536.9,385.1 538.9,385.7 540.9,386.3 542.9,386.9 544.9,387.5 546.9,388.1 548.9,388.8 550.9,389.4 552.9,390.1 554.9,390.8 556.9,391.6 558.9,392.3 560.9,393.1 562.9,393.9 564.9,394.8 566.9,395.6 568.9,396.4 570.9,397.2 572.9,398 574.9,398.8 576.9,399.5 578.9,400.3 580.9,401 582.9,401.8 584.9,402.5 586.9,403.2 588.9,404 590.9,404.6 592.9,405.3 594.9,405.9 596.9,406.5 598.9,407.1 600.9,407.6 602.9,408.2 604.9,408.7 606.9,409.2 608.9,409.7 610.9,410.2 612.9,410.6 614.9,411.1 616.9,411.5 618.9,412 620.9,412.4 622.9,412.8 624.9,413.2 626.9,413.6 628.9,414 630.9,414.3 632.9,414.7 634.9,415 636.9,415.3 638.9,415.6 640.9,415.9 642.9,416.2 644.9,416.5 646.9,416.7 648.9,417 650.9,417.2 652.9,417.4 654.9,417.6 656.9,417.9 658.9,418.1 660.9,418.3 662.9,418.5 664.9,418.6 666.9,418.8 668.9,419 670.9,419.2 672.9,419.3 674.9,419.5 676.9,419.6 678.9,419.8 680.4,419.8" stroke="#0a0a94"/>
<path d="M48.9,422.5 50.9,422.5 52.9,422.5 54.9,422.5 56.9,422.5 58.9,422.5 60.9,422.5 62.9,422.5 64.9,422.5 66.9,422.5 68.9,422.5 70.9,422.5 72.9,422.5 74.9,422.5 76.9,422.5 78.9,422.5 80.9,422.5 82.9,422.5 84.9,422.5 86.9,422.5 88.9,422.5 90.9,422.5 92.9,422.5 94.9,422.5 96.9,422.5 98.9,422.5 100.9,422.5 102.9,422.5 104.9,422.5 106.9,422.5 108.9,422.5 110.9,422.5 112.9,422.5 114.9,422.5 116.9,422.5 118.9,422.5 120.9,422.5 122.9,422.5 124.9,422.5 126.9,422.5 128.9,422.5 130.9,422.5 132.9,422.5 134.9,422.5 136.9,422.5 138.9,422.5 140.9,422.5 142.9,422.4 144.9,422.4 146.9,422.4 148.9,422.4 150.9,422.4 152.9,422.3 154.9,422.3 156.9,422.3 158.9,422.2 160.9,422.1 162.9,422.1 164.9,421.9 166.9,421.8 168.9,421.7 170.9,421.5 172.9,421.3 174.9,421 176.9,420.7 178.9,420.4 180.9,420 182.9,419.6 184.9,419.1 186.9,418.5 188.9,417.9 190.9,417.2 192.9,416.4 194.9,415.6 196.9,414.6 198.9,413.7 200.9,412.7 202.9,411.7 204.9,410.6 206.9,409.6 208.9,408.6 210.9,407.6 212.9,406.6 214.9,405.6 216.9,404.7 218.9,403.8 220.9,403 222.9,402.3 224.9,401.6 226.9,401.1 228.9,400.5 230.9,400.1 232.9,399.6 234.9,399.3 236.9,398.9 238.9,398.6 240.9,398.3 242.9,398 244.9,397.7 246.9,397.5 248.9,397.3 250.9,397.1 252.9,396.9 254.9,396.7 256.9,396.6 258.9,396.5 260.9,396.4 262.9,396.3 264.9,396.2 266.9,396.1 268.9,396.1 270.9,396 272.9,395.9 274.9,395.8 276.9,395.7 278.9,395.5 280.9,395.4 282.9,395.2 284.9,395 286.9,394.9 288.9,394.7 290.9,394.5 292.9,394.2 294.9,394 296.9,393.8 298.9,393.5 300.9,393.2 302.9,392.9 304.9,392.6 306.9,392.3 308.9,391.9 310.9,391.5 312.9,391.2 314.9,390.8 316.9,390.5 318.9,390.1 320.9,389.8 322.9,389.5 324.9,389.2 326.9,388.9 328.9,388.5 330.9,388.2 332.9,387.9 334.9,387.6 336.9,387.3 338.9,386.9 340.9,386.6 342.9,386.2 344.9,385.8 346.9,385.4 348.9,385 350.9,384.6 352.9,384.2 354.9,383.8 356.9,383.4 358.9,383 360.9,382.6 362.9,382.2 364.9,381.9 366.9,381.5 368.9,381.1 370.9,380.7 372.9,380.3 374.9,380 376.9,379.6 378.9,379.3 380.9,379 382.9,378.7 384.9,378.4 386.9,378.2 388.9,377.9 390.9,377.7 392.9,377.4 394.9,377.2 396.9,377 398.9,376.8 400.9,376.7 402.9,376.5 404.9,376.3 406.9,376.2 408.9,376.1 410.9,375.9 412.9,375.8 414.9,375.7 416.9,375.6 418.9,375.5 420.9,375.4 422.9,375.3 424.9,375.3 426.9,375.3 428.9,375.3 430.9,375.3 432.9,375.4 434.9,375.4 436.9,375.5 438.9,375.5 440.9,375.6 442.9,375.6 444.9,375.7 446.9,375.7 448.9,375.8 450.9,375.8 452.9,375.9 454.9,376 456.9,376.1 458.9,376.1 460.9,376.2 462.9,376.3 464.9,376.4 466.9,376.5 468.9,376.5 470.9,376.6 472.9,376.7 474.9,376.7 476.9,376.8 478.9,376.9 480.9,376.9 482.9,377 484.9,377.1 486.9,377.2 488.9,377.3 490.9,377.4 492.9,377.5 494.9,377.7 496.9,377.8 498.9,378 500.9,378.1 502.9,378.3 504.9,378.5 506.9,378.7 508.9,378.9 510.9,379.2 512.9,379.4 514.9,379.7 516.9,380.1 518.9,380.4 520.9,380.8 522.9,381.2 524.9,381.6 526.9,382 528.9,382.5 530.9,382.9 532.9,383.4 534.9,383.9 536.9,384.5 538.9,385 540.9,385.6 542.9,386.2 544.9,386.8 546.9,387.5 548.9,388.1 550.9,388.8 552.9,389.5 554.9,390.2 556.9,391 558.9,391.8 560.9,392.6 562.9,393.4 564.9,394.3 566.9,395.1 568.9,396 570.9,396.8 572.9,397.6 574.9,398.4 576.9,399.1 578.9,399.9 580.9,400.7 582.9,401.4 584.9,402.1 586.9,402.9 588.9,403.6 590.9,404.2 592.9,404.9 594.9,405.5 596.9,406.1 598.9,406.7 600.9,407.2 602.9,407.8 604.9,408.3 606.9,408.8 608.9,409.3 610.9,409.8 612.9,410.2 614.9,410.7 616.9,411.1 618.9,411.6 620.9,412 622.9,412.4 624.9,412.8 626.9,413.2 628.9,413.6 630.9,413.9 632.9,414.3 634.9,414.6 636.9,414.9 638.9,415.2 640.9,415.5 642.9,415.8 644.9,416.1 646.9,416.3 648.9,416.6 650.9,416.8 652.9,417 654.9,417.2 656.9,417.5 658.9,417.7 660.9,417.9 662.9,418.1 664.9,418.2 666.9,418.4 668.9,418.6 670.9,418.8 672.9,418.9 674.9,419.1 676.9,419.2 678.9,419.4 680.4,419.4" stroke="#0a0a94" stroke-dasharray="3.7 1.6"/>
</g>
<path d="M42.5,250.5 H680.5 V422.5 H42.5 Z" fill="none" stroke="#2e2e2e" stroke-width=".9"/>
<path d="M552.9,419.1 V422.5" stroke="#111" stroke-width="1.2"/>
<text x="361.5" y="245.4" font-size="12.4" text-anchor="middle" textLength="157.6" lengthAdjust="spacingAndGlyphs">Game against clubs on Cluster 2</text>
<text x="361.5" y="453.6" font-size="12" text-anchor="middle" textLength="100.5" lengthAdjust="spacingAndGlyphs">Time relative to game</text>
<text transform="translate(9.2,336.4) rotate(-90)" font-size="13" font-style="italic" stroke-width=".12" text-anchor="middle" textLength="21.5" lengthAdjust="spacingAndGlyphs">β(t)</text>
<text x="42.5" y="438.6" font-size="10.3" text-anchor="middle" textLength="17.9" lengthAdjust="spacingAndGlyphs">-120</text>
<text x="106.3" y="438.6" font-size="10.3" text-anchor="middle" textLength="18.5" lengthAdjust="spacingAndGlyphs">-105</text>
<text x="170.1" y="438.6" font-size="10.3" text-anchor="middle" textLength="14.7" lengthAdjust="spacingAndGlyphs">-90</text>
<text x="233.9" y="438.6" font-size="10.3" text-anchor="middle" textLength="13.5" lengthAdjust="spacingAndGlyphs">-75</text>
<text x="297.7" y="438.6" font-size="10.3" text-anchor="middle" textLength="14.1" lengthAdjust="spacingAndGlyphs">-60</text>
<text x="361.5" y="438.6" font-size="10.3" text-anchor="middle" textLength="14.1" lengthAdjust="spacingAndGlyphs">-45</text>
<text x="425.3" y="438.6" font-size="10.3" text-anchor="middle" textLength="13.8" lengthAdjust="spacingAndGlyphs">-30</text>
<text x="489.1" y="438.6" font-size="10.3" text-anchor="middle" textLength="12.2" lengthAdjust="spacingAndGlyphs">-15</text>
<text x="552.9" y="438.6" font-size="10.3" text-anchor="middle" textLength="5.6" lengthAdjust="spacingAndGlyphs">0</text>
<text x="616.7" y="438.6" font-size="10.3" text-anchor="middle" textLength="9.5" lengthAdjust="spacingAndGlyphs">15</text>
<text x="680.5" y="438.6" font-size="10.3" text-anchor="middle" textLength="10.4" lengthAdjust="spacingAndGlyphs">30</text>
<text x="35.5" y="426.5" font-size="10.3" text-anchor="end" textLength="5.5" lengthAdjust="spacingAndGlyphs">0</text>
<text x="35.5" y="392.1" font-size="10.3" text-anchor="end" textLength="14.7" lengthAdjust="spacingAndGlyphs">250</text>
<text x="35.5" y="357.6" font-size="10.3" text-anchor="end" textLength="15.3" lengthAdjust="spacingAndGlyphs">500</text>
<text x="35.5" y="323.2" font-size="10.3" text-anchor="end" textLength="14.2" lengthAdjust="spacingAndGlyphs">750</text>
<text x="35.5" y="288.7" font-size="10.3" text-anchor="end" textLength="19.7" lengthAdjust="spacingAndGlyphs">1000</text>
<text x="35.5" y="254.3" font-size="10.3" text-anchor="end" textLength="17.8" lengthAdjust="spacingAndGlyphs">1250</text>
</g>
<g>
<path d="M106.3,485.1 V657.4 M170.1,485.1 V657.4 M233.9,485.1 V657.4 M297.7,485.1 V657.4 M361.5,485.1 V657.4 M425.3,485.1 V657.4 M489.1,485.1 V657.4 M552.9,485.1 V657.4 M616.7,485.1 V657.4 M42.5,623.1 H680.5 M42.5,588.6 H680.5 M42.5,554.2 H680.5 M42.5,519.7 H680.5" stroke="#f5f5f5" stroke-width="1" fill="none"/>
<clipPath id="c2"><rect x="43" y="485.1" width="637" height="172.8"/></clipPath><g clip-path="url(#c2)" fill="none" stroke-width="1.2">
<path d="M48.9,657.4 50.9,657.4 52.9,657.4 54.9,657.4 56.9,657.4 58.9,657.4 60.9,657.4 62.9,657.4 64.9,657.4 66.9,657.4 68.9,657.4 70.9,657.4 72.9,657.4 74.9,657.4 76.9,657.4 78.9,657.4 80.9,657.4 82.9,657.4 84.9,657.4 86.9,657.4 88.9,657.4 90.9,657.4 92.9,657.4 94.9,657.4 96.9,657.4 98.9,657.4 100.9,657.4 102.9,657.4 104.9,657.4 106.9,657.4 108.9,657.4 110.9,657.4 112.9,657.4 114.9,657.4 116.9,657.4 118.9,657.4 120.9,657.4 122.9,657.4 124.9,657.4 126.9,657.4 128.9,657.4 130.9,657.4 132.9,657.4 134.9,657.4 136.9,657.4 138.9,657.4 140.9,657.4 142.9,657.4 144.9,657.4 146.9,657.4 148.9,657.4 150.9,657.4 152.9,657.4 154.9,657.4 156.9,657.4 158.9,657.4 160.9,657.3 162.9,657.3 164.9,657.3 166.9,657.3 168.9,657.3 170.9,657.3 172.9,657.2 174.9,657.2 176.9,657.1 178.9,657.1 180.9,657 182.9,656.9 184.9,656.8 186.9,656.7 188.9,656.5 190.9,656.4 192.9,656.3 194.9,656.1 196.9,656 198.9,655.8 200.9,655.6 202.9,655.5 204.9,655.3 206.9,655.1 208.9,654.9 210.9,654.8 212.9,654.6 214.9,654.4 216.9,654.2 218.9,654 220.9,653.7 222.9,653.5 224.9,653.3 226.9,653.1 228.9,652.9 230.9,652.7 232.9,652.5 234.9,652.3 236.9,652.2 238.9,652 240.9,651.9 242.9,651.7 244.9,651.6 246.9,651.4 248.9,651.3 250.9,651.2 252.9,651.1 254.9,651 256.9,650.9 258.9,650.8 260.9,650.7 262.9,650.6 264.9,650.6 266.9,650.5 268.9,650.4 270.9,650.4 272.9,650.3 274.9,650.2 276.9,650.1 278.9,649.9 280.9,649.8 282.9,649.6 284.9,649.4 286.9,649.2 288.9,649 290.9,648.8 292.9,648.6 294.9,648.4 296.9,648.1 298.9,647.9 300.9,647.7 302.9,647.5 304.9,647.2 306.9,647 308.9,646.8 310.9,646.5 312.9,646.3 314.9,646 316.9,645.8 318.9,645.6 320.9,645.3 322.9,645.1 324.9,644.8 326.9,644.6 328.9,644.4 330.9,644.1 332.9,643.9 334.9,643.6 336.9,643.3 338.9,643 340.9,642.7 342.9,642.4 344.9,642.1 346.9,641.7 348.9,641.4 350.9,641 352.9,640.6 354.9,640.2 356.9,639.8 358.9,639.3 360.9,638.8 362.9,638.3 364.9,637.7 366.9,637.1 368.9,636.4 370.9,635.7 372.9,634.9 374.9,634.1 376.9,633.4 378.9,632.6 380.9,631.7 382.9,630.9 384.9,630.1 386.9,629.3 388.9,628.4 390.9,627.5 392.9,626.6 394.9,625.7 396.9,624.8 398.9,623.8 400.9,622.9 402.9,622 404.9,621 406.9,620.1 408.9,619.1 410.9,618.2 412.9,617.2 414.9,616.3 416.9,615.3 418.9,614.3 420.9,613.4 422.9,612.4 424.9,611.4 426.9,610.5 428.9,609.5 430.9,608.6 432.9,607.7 434.9,606.7 436.9,605.8 438.9,604.8 440.9,603.8 442.9,602.8 444.9,601.7 446.9,600.6 448.9,599.4 450.9,598.2 452.9,597 454.9,595.7 456.9,594.3 458.9,592.9 460.9,591.5 462.9,590 464.9,588.5 466.9,587 468.9,585.4 470.9,583.7 472.9,582 474.9,580.2 476.9,578.4 478.9,576.5 480.9,574.6 482.9,572.7 484.9,570.7 486.9,568.7 488.9,566.7 490.9,564.6 492.9,562.5 494.9,560.4 496.9,558.2 498.9,556 500.9,553.7 502.9,551.4 504.9,549 506.9,546.7 508.9,544.3 510.9,542 512.9,539.6 514.9,537.2 516.9,535 518.9,532.9 520.9,531 522.9,529.3 524.9,527.7 526.9,526.4 528.9,525.2 530.9,524.3 532.9,523.7 534.9,523.4 536.9,523.3 538.9,523.6 540.9,524.2 542.9,525 544.9,526.1 546.9,527.6 548.9,529.3 550.9,531.2 552.9,533.3 554.9,535.6 556.9,538.1 558.9,540.8 560.9,543.8 562.9,546.9 564.9,550.2 566.9,553.8 568.9,557.6 570.9,561.5 572.9,565.4 574.9,569.4 576.9,573.3 578.9,577.3 580.9,581.2 582.9,585.1 584.9,589 586.9,592.7 588.9,596.4 590.9,599.9 592.9,603.4 594.9,606.6 596.9,609.6 598.9,612.4 600.9,615.1 602.9,617.6 604.9,620 606.9,622.2 608.9,624.3 610.9,626.2 612.9,628 614.9,629.8 616.9,631.3 618.9,632.8 620.9,634.2 622.9,635.5 624.9,636.7 626.9,637.9 628.9,638.9 630.9,639.9 632.9,640.9 634.9,641.8 636.9,642.6 638.9,643.4 640.9,644.1 642.9,644.8 644.9,645.4 646.9,646.1 648.9,646.7 650.9,647.2 652.9,647.8 654.9,648.3 656.9,648.8 658.9,649.3 660.9,649.7 662.9,650.2 664.9,650.5 666.9,650.9 668.9,651.3 670.9,651.6 672.9,652 674.9,652.3 676.9,652.6 678.9,652.8 680.4,653 L680.4,653.3 678.9,653.2 676.9,653 674.9,652.7 672.9,652.4 670.9,652.1 668.9,651.8 666.9,651.4 664.9,651.1 662.9,650.7 660.9,650.3 658.9,649.9 656.9,649.5 654.9,649 652.9,648.5 650.9,648 648.9,647.5 646.9,646.9 644.9,646.4 642.9,645.7 640.9,645.1 638.9,644.4 636.9,643.7 634.9,643 632.9,642.1 630.9,641.3 628.9,640.3 626.9,639.4 624.9,638.3 622.9,637.2 620.9,636 618.9,634.7 616.9,633.4 614.9,631.9 612.9,630.3 610.9,628.6 608.9,626.8 606.9,624.9 604.9,622.9 602.9,620.7 600.9,618.3 598.9,615.9 596.9,613.3 594.9,610.5 592.9,607.5 590.9,604.4 588.9,601.1 586.9,597.7 584.9,594.2 582.9,590.7 580.9,587.1 578.9,583.5 576.9,579.8 574.9,576.1 572.9,572.5 570.9,568.9 568.9,565.3 566.9,561.8 564.9,558.5 562.9,555.4 560.9,552.5 558.9,549.8 556.9,547.3 554.9,545 552.9,542.9 550.9,540.9 548.9,539.1 546.9,537.6 544.9,536.2 542.9,535.2 540.9,534.4 538.9,533.9 536.9,533.7 534.9,533.7 532.9,534 530.9,534.6 528.9,535.4 526.9,536.5 524.9,537.7 522.9,539.1 520.9,540.7 518.9,542.5 516.9,544.4 514.9,546.5 512.9,548.7 510.9,550.8 508.9,553 506.9,555.2 504.9,557.4 502.9,559.6 500.9,561.7 498.9,563.8 496.9,565.8 494.9,567.9 492.9,569.8 490.9,571.8 488.9,573.7 486.9,575.5 484.9,577.4 482.9,579.2 480.9,581 478.9,582.8 476.9,584.5 474.9,586.2 472.9,587.8 470.9,589.4 468.9,590.9 466.9,592.4 464.9,593.8 462.9,595.2 460.9,596.6 458.9,597.9 456.9,599.2 454.9,600.4 452.9,601.6 450.9,602.8 448.9,603.9 446.9,605 444.9,606 442.9,607 440.9,608 438.9,608.9 436.9,609.8 434.9,610.6 432.9,611.5 430.9,612.4 428.9,613.2 426.9,614.1 424.9,615 422.9,615.9 420.9,616.8 418.9,617.6 416.9,618.5 414.9,619.4 412.9,620.3 410.9,621.2 408.9,622.1 406.9,623 404.9,623.8 402.9,624.7 400.9,625.5 398.9,626.4 396.9,627.3 394.9,628.1 392.9,629 390.9,629.8 388.9,630.6 386.9,631.4 384.9,632.2 382.9,633 380.9,633.7 378.9,634.5 376.9,635.2 374.9,635.9 372.9,636.6 370.9,637.3 368.9,638 366.9,638.6 364.9,639.2 362.9,639.7 360.9,640.2 358.9,640.7 356.9,641.1 354.9,641.5 352.9,641.9 350.9,642.3 348.9,642.6 346.9,642.9 344.9,643.3 342.9,643.6 340.9,643.9 338.9,644.1 336.9,644.4 334.9,644.7 332.9,644.9 330.9,645.1 328.9,645.4 326.9,645.6 324.9,645.8 322.9,646 320.9,646.2 318.9,646.5 316.9,646.7 314.9,646.9 312.9,647.1 310.9,647.4 308.9,647.6 306.9,647.8 304.9,648 302.9,648.2 300.9,648.4 298.9,648.6 296.9,648.8 294.9,649 292.9,649.3 290.9,649.5 288.9,649.7 286.9,649.9 284.9,650 282.9,650.2 280.9,650.4 278.9,650.5 276.9,650.6 274.9,650.7 272.9,650.8 270.9,650.9 268.9,651 266.9,651 264.9,651.1 262.9,651.2 260.9,651.2 258.9,651.3 256.9,651.4 254.9,651.5 252.9,651.6 250.9,651.7 248.9,651.8 246.9,651.9 244.9,652 242.9,652.2 240.9,652.3 238.9,652.4 236.9,652.6 234.9,652.7 232.9,652.9 230.9,653 228.9,653.2 226.9,653.4 224.9,653.6 222.9,653.8 220.9,654 218.9,654.2 216.9,654.4 214.9,654.6 212.9,654.8 210.9,655 208.9,655.1 206.9,655.3 204.9,655.5 202.9,655.6 200.9,655.8 198.9,655.9 196.9,656.1 194.9,656.2 192.9,656.3 190.9,656.5 188.9,656.6 186.9,656.7 184.9,656.8 182.9,656.9 180.9,657 178.9,657.1 176.9,657.1 174.9,657.2 172.9,657.2 170.9,657.3 168.9,657.3 166.9,657.3 164.9,657.3 162.9,657.3 160.9,657.4 158.9,657.4 156.9,657.4 154.9,657.4 152.9,657.4 150.9,657.4 148.9,657.4 146.9,657.4 144.9,657.4 142.9,657.4 140.9,657.4 138.9,657.4 136.9,657.4 134.9,657.4 132.9,657.4 130.9,657.4 128.9,657.4 126.9,657.4 124.9,657.4 122.9,657.4 120.9,657.4 118.9,657.4 116.9,657.4 114.9,657.4 112.9,657.4 110.9,657.4 108.9,657.4 106.9,657.4 104.9,657.4 102.9,657.4 100.9,657.4 98.9,657.4 96.9,657.4 94.9,657.4 92.9,657.4 90.9,657.4 88.9,657.4 86.9,657.4 84.9,657.4 82.9,657.4 80.9,657.4 78.9,657.4 76.9,657.4 74.9,657.4 72.9,657.4 70.9,657.4 68.9,657.4 66.9,657.4 64.9,657.4 62.9,657.4 60.9,657.4 58.9,657.4 56.9,657.4 54.9,657.4 52.9,657.4 50.9,657.4 48.9,657.4Z" fill="#8e0606" fill-opacity=".3" stroke="#8e0606" stroke-opacity=".3" stroke-width=".8"/>
<path d="M48.9,657.4 50.9,657.4 52.9,657.4 54.9,657.4 56.9,657.4 58.9,657.4 60.9,657.4 62.9,657.4 64.9,657.4 66.9,657.4 68.9,657.4 70.9,657.4 72.9,657.4 74.9,657.4 76.9,657.4 78.9,657.4 80.9,657.4 82.9,657.4 84.9,657.4 86.9,657.4 88.9,657.4 90.9,657.4 92.9,657.4 94.9,657.4 96.9,657.4 98.9,657.4 100.9,657.4 102.9,657.4 104.9,657.4 106.9,657.4 108.9,657.4 110.9,657.4 112.9,657.4 114.9,657.4 116.9,657.4 118.9,657.4 120.9,657.4 122.9,657.4 124.9,657.4 126.9,657.4 128.9,657.4 130.9,657.4 132.9,657.4 134.9,657.4 136.9,657.4 138.9,657.4 140.9,657.4 142.9,657.4 144.9,657.4 146.9,657.4 148.9,657.4 150.9,657.4 152.9,657.4 154.9,657.4 156.9,657.4 158.9,657.4 160.9,657.4 162.9,657.3 164.9,657.3 166.9,657.3 168.9,657.3 170.9,657.3 172.9,657.2 174.9,657.2 176.9,657.1 178.9,657.1 180.9,657 182.9,656.9 184.9,656.8 186.9,656.7 188.9,656.6 190.9,656.4 192.9,656.3 194.9,656.2 196.9,656 198.9,655.9 200.9,655.7 202.9,655.5 204.9,655.4 206.9,655.2 208.9,655 210.9,654.9 212.9,654.7 214.9,654.5 216.9,654.3 218.9,654.1 220.9,653.9 222.9,653.7 224.9,653.5 226.9,653.3 228.9,653.1 230.9,652.9 232.9,652.7 234.9,652.5 236.9,652.4 238.9,652.2 240.9,652.1 242.9,651.9 244.9,651.8 246.9,651.7 248.9,651.5 250.9,651.4 252.9,651.3 254.9,651.2 256.9,651.1 258.9,651 260.9,651 262.9,650.9 264.9,650.8 266.9,650.8 268.9,650.7 270.9,650.6 272.9,650.6 274.9,650.5 276.9,650.4 278.9,650.2 280.9,650.1 282.9,649.9 284.9,649.7 286.9,649.5 288.9,649.3 290.9,649.1 292.9,648.9 294.9,648.7 296.9,648.5 298.9,648.3 300.9,648.1 302.9,647.8 304.9,647.6 306.9,647.4 308.9,647.2 310.9,646.9 312.9,646.7 314.9,646.5 316.9,646.2 318.9,646 320.9,645.8 322.9,645.6 324.9,645.3 326.9,645.1 328.9,644.9 330.9,644.6 332.9,644.4 334.9,644.1 336.9,643.9 338.9,643.6 340.9,643.3 342.9,643 344.9,642.7 346.9,642.3 348.9,642 350.9,641.6 352.9,641.3 354.9,640.9 356.9,640.4 358.9,640 360.9,639.5 362.9,639 364.9,638.4 366.9,637.8 368.9,637.2 370.9,636.5 372.9,635.8 374.9,635 376.9,634.3 378.9,633.5 380.9,632.7 382.9,631.9 384.9,631.2 386.9,630.3 388.9,629.5 390.9,628.6 392.9,627.8 394.9,626.9 396.9,626 398.9,625.1 400.9,624.2 402.9,623.3 404.9,622.4 406.9,621.5 408.9,620.6 410.9,619.7 412.9,618.8 414.9,617.8 416.9,616.9 418.9,616 420.9,615.1 422.9,614.1 424.9,613.2 426.9,612.3 428.9,611.4 430.9,610.5 432.9,609.6 434.9,608.7 436.9,607.8 438.9,606.8 440.9,605.9 442.9,604.9 444.9,603.9 446.9,602.8 448.9,601.7 450.9,600.5 452.9,599.3 454.9,598 456.9,596.7 458.9,595.4 460.9,594 462.9,592.6 464.9,591.2 466.9,589.7 468.9,588.1 470.9,586.6 472.9,584.9 474.9,583.2 476.9,581.4 478.9,579.6 480.9,577.8 482.9,575.9 484.9,574 486.9,572.1 488.9,570.2 490.9,568.2 492.9,566.2 494.9,564.1 496.9,562 498.9,559.9 500.9,557.7 502.9,555.5 504.9,553.2 506.9,550.9 508.9,548.7 510.9,546.4 512.9,544.1 514.9,541.9 516.9,539.7 518.9,537.7 520.9,535.8 522.9,534.2 524.9,532.7 526.9,531.4 528.9,530.3 530.9,529.4 532.9,528.8 534.9,528.5 536.9,528.5 538.9,528.8 540.9,529.3 542.9,530.1 544.9,531.2 546.9,532.6 548.9,534.2 550.9,536.1 552.9,538.1 554.9,540.3 556.9,542.7 558.9,545.3 560.9,548.1 562.9,551.2 564.9,554.4 566.9,557.8 568.9,561.4 570.9,565.2 572.9,569 574.9,572.8 576.9,576.6 578.9,580.4 580.9,584.2 582.9,587.9 584.9,591.6 586.9,595.2 588.9,598.7 590.9,602.2 592.9,605.4 594.9,608.5 596.9,611.4 598.9,614.2 600.9,616.7 602.9,619.1 604.9,621.4 606.9,623.5 608.9,625.5 610.9,627.4 612.9,629.2 614.9,630.8 616.9,632.3 618.9,633.8 620.9,635.1 622.9,636.4 624.9,637.5 626.9,638.6 628.9,639.6 630.9,640.6 632.9,641.5 634.9,642.4 636.9,643.1 638.9,643.9 640.9,644.6 642.9,645.3 644.9,645.9 646.9,646.5 648.9,647.1 650.9,647.6 652.9,648.2 654.9,648.7 656.9,649.1 658.9,649.6 660.9,650 662.9,650.4 664.9,650.8 666.9,651.2 668.9,651.5 670.9,651.9 672.9,652.2 674.9,652.5 676.9,652.8 678.9,653 680.4,653.1" stroke="#8e0606"/>
<path d="M48.9,657.4 50.9,657.4 52.9,657.4 54.9,657.4 56.9,657.4 58.9,657.4 60.9,657.4 62.9,657.4 64.9,657.4 66.9,657.4 68.9,657.4 70.9,657.4 72.9,657.4 74.9,657.4 76.9,657.4 78.9,657.4 80.9,657.4 82.9,657.4 84.9,657.4 86.9,657.4 88.9,657.4 90.9,657.4 92.9,657.4 94.9,657.4 96.9,657.4 98.9,657.4 100.9,657.4 102.9,657.4 104.9,657.4 106.9,657.4 108.9,657.4 110.9,657.4 112.9,657.4 114.9,657.4 116.9,657.4 118.9,657.4 120.9,657.4 122.9,657.4 124.9,657.4 126.9,657.4 128.9,657.4 130.9,657.4 132.9,657.4 134.9,657.4 136.9,657.4 138.9,657.4 140.9,657.4 142.9,657.4 144.9,657.4 146.9,657.4 148.9,657.4 150.9,657.4 152.9,657.4 154.9,657.4 156.9,657.4 158.9,657.4 160.9,657.4 162.9,657.3 164.9,657.3 166.9,657.3 168.9,657.3 170.9,657.3 172.9,657.2 174.9,657.2 176.9,657.1 178.9,657.1 180.9,657 182.9,656.9 184.9,656.8 186.9,656.7 188.9,656.6 190.9,656.4 192.9,656.3 194.9,656.2 196.9,656 198.9,655.9 200.9,655.7 202.9,655.6 204.9,655.4 206.9,655.3 208.9,655.1 210.9,654.9 212.9,654.8 214.9,654.6 216.9,654.4 218.9,654.2 220.9,654 222.9,653.8 224.9,653.6 226.9,653.4 228.9,653.2 230.9,653 232.9,652.9 234.9,652.7 236.9,652.6 238.9,652.5 240.9,652.3 242.9,652.2 244.9,652.1 246.9,652 248.9,651.9 250.9,651.8 252.9,651.7 254.9,651.6 256.9,651.5 258.9,651.5 260.9,651.4 262.9,651.3 264.9,651.2 266.9,651.2 268.9,651.1 270.9,651 272.9,651 274.9,650.9 276.9,650.8 278.9,650.6 280.9,650.5 282.9,650.4 284.9,650.2 286.9,650 288.9,649.9 290.9,649.7 292.9,649.5 294.9,649.3 296.9,649.2 298.9,649 300.9,648.8 302.9,648.6 304.9,648.5 306.9,648.3 308.9,648.1 310.9,647.9 312.9,647.7 314.9,647.6 316.9,647.4 318.9,647.2 320.9,647 322.9,646.9 324.9,646.7 326.9,646.6 328.9,646.4 330.9,646.3 332.9,646.1 334.9,645.9 336.9,645.7 338.9,645.5 340.9,645.3 342.9,645.1 344.9,644.8 346.9,644.6 348.9,644.3 350.9,644 352.9,643.7 354.9,643.4 356.9,643 358.9,642.7 360.9,642.3 362.9,641.9 364.9,641.4 366.9,641 368.9,640.4 370.9,639.9 372.9,639.3 374.9,638.7 376.9,638.1 378.9,637.4 380.9,636.8 382.9,636.2 384.9,635.5 386.9,634.8 388.9,634.1 390.9,633.4 392.9,632.6 394.9,631.9 396.9,631.1 398.9,630.3 400.9,629.5 402.9,628.8 404.9,628 406.9,627.1 408.9,626.3 410.9,625.5 412.9,624.7 414.9,623.8 416.9,623 418.9,622.1 420.9,621.3 422.9,620.4 424.9,619.6 426.9,618.8 428.9,618 430.9,617.2 432.9,616.4 434.9,615.6 436.9,614.8 438.9,614 440.9,613.1 442.9,612.3 444.9,611.4 446.9,610.4 448.9,609.4 450.9,608.4 452.9,607.3 454.9,606.2 456.9,605.1 458.9,603.9 460.9,602.6 462.9,601.4 464.9,600 466.9,598.6 468.9,597.2 470.9,595.6 472.9,594 474.9,592.3 476.9,590.5 478.9,588.7 480.9,586.8 482.9,584.9 484.9,582.9 486.9,580.8 488.9,578.8 490.9,576.6 492.9,574.4 494.9,572.1 496.9,569.8 498.9,567.4 500.9,565 502.9,562.5 504.9,560 506.9,557.4 508.9,554.9 510.9,552.3 512.9,549.7 514.9,547.1 516.9,544.7 518.9,542.4 520.9,540.3 522.9,538.4 524.9,536.8 526.9,535.3 528.9,534 530.9,533.1 532.9,532.4 534.9,532 536.9,531.9 538.9,532.1 540.9,532.6 542.9,533.3 544.9,534.2 546.9,535.3 548.9,536.6 550.9,538 552.9,539.6 554.9,541.4 556.9,543.5 558.9,545.9 560.9,548.4 562.9,551.2 564.9,554.3 566.9,557.6 568.9,561.1 570.9,564.8 572.9,568.6 574.9,572.3 576.9,576.1 578.9,579.9 580.9,583.7 582.9,587.4 584.9,591.1 586.9,594.7 588.9,598.2 590.9,601.6 592.9,604.9 594.9,608 596.9,610.9 598.9,613.6 600.9,616.2 602.9,618.6 604.9,620.9 606.9,623.1 608.9,625.1 610.9,627 612.9,628.7 614.9,630.4 616.9,632 618.9,633.4 620.9,634.7 622.9,636 624.9,637.2 626.9,638.3 628.9,639.3 630.9,640.3 632.9,641.3 634.9,642.1 636.9,642.9 638.9,643.7 640.9,644.4 642.9,645.1 644.9,645.8 646.9,646.4 648.9,647 650.9,647.5 652.9,648.1 654.9,648.6 656.9,649 658.9,649.5 660.9,649.9 662.9,650.4 664.9,650.8 666.9,651.2 668.9,651.5 670.9,651.9 672.9,652.2 674.9,652.5 676.9,652.8 678.9,653 680.4,653.2" stroke="#8e0606" stroke-dasharray="3.7 1.6"/>
<path d="M48.9,657.4 50.9,657.4 52.9,657.4 54.9,657.4 56.9,657.4 58.9,657.4 60.9,657.4 62.9,657.4 64.9,657.4 66.9,657.4 68.9,657.4 70.9,657.4 72.9,657.4 74.9,657.4 76.9,657.4 78.9,657.4 80.9,657.4 82.9,657.4 84.9,657.4 86.9,657.4 88.9,657.4 90.9,657.4 92.9,657.4 94.9,657.4 96.9,657.4 98.9,657.4 100.9,657.4 102.9,657.4 104.9,657.4 106.9,657.4 108.9,657.4 110.9,657.4 112.9,657.4 114.9,657.4 116.9,657.4 118.9,657.4 120.9,657.4 122.9,657.4 124.9,657.4 126.9,657.4 128.9,657.4 130.9,657.4 132.9,657.4 134.9,657.4 136.9,657.4 138.9,657.4 140.9,657.4 142.9,657.3 144.9,657.3 146.9,657.3 148.9,657.3 150.9,657.3 152.9,657.2 154.9,657.2 156.9,657.1 158.9,657.1 160.9,657 162.9,656.9 164.9,656.8 166.9,656.7 168.9,656.5 170.9,656.3 172.9,656.1 174.9,655.9 176.9,655.5 178.9,655.2 180.9,654.8 182.9,654.3 184.9,653.8 186.9,653.2 188.9,652.5 190.9,651.8 192.9,651 194.9,650.1 196.9,649.1 198.9,648.1 200.9,647 202.9,645.9 204.9,644.8 206.9,643.7 208.9,642.6 210.9,641.5 212.9,640.4 214.9,639.4 216.9,638.3 218.9,637.4 220.9,636.5 222.9,635.7 224.9,635 226.9,634.3 228.9,633.7 230.9,633.2 232.9,632.8 234.9,632.3 236.9,632 238.9,631.6 240.9,631.3 242.9,631 244.9,630.7 246.9,630.5 248.9,630.2 250.9,630 252.9,629.8 254.9,629.6 256.9,629.4 258.9,629.3 260.9,629.1 262.9,629 264.9,628.9 266.9,628.8 268.9,628.6 270.9,628.5 272.9,628.4 274.9,628.2 276.9,628 278.9,627.8 280.9,627.6 282.9,627.3 284.9,627 286.9,626.7 288.9,626.4 290.9,626.1 292.9,625.7 294.9,625.4 296.9,625 298.9,624.7 300.9,624.3 302.9,624 304.9,623.6 306.9,623.2 308.9,622.8 310.9,622.4 312.9,622 314.9,621.5 316.9,621.1 318.9,620.7 320.9,620.3 322.9,619.8 324.9,619.4 326.9,618.9 328.9,618.5 330.9,618 332.9,617.5 334.9,617.1 336.9,616.6 338.9,616.1 340.9,615.7 342.9,615.2 344.9,614.8 346.9,614.3 348.9,613.8 350.9,613.4 352.9,612.9 354.9,612.4 356.9,612 358.9,611.6 360.9,611.1 362.9,610.7 364.9,610.3 366.9,609.8 368.9,609.4 370.9,609 372.9,608.6 374.9,608.2 376.9,607.8 378.9,607.4 380.9,607.1 382.9,606.8 384.9,606.4 386.9,606.1 388.9,605.8 390.9,605.5 392.9,605.2 394.9,605 396.9,604.7 398.9,604.5 400.9,604.3 402.9,604.1 404.9,604 406.9,603.8 408.9,603.7 410.9,603.5 412.9,603.4 414.9,603.3 416.9,603.2 418.9,603.1 420.9,603 422.9,603 424.9,603 426.9,603 428.9,603 430.9,603 432.9,603.1 434.9,603.1 436.9,603.2 438.9,603.3 440.9,603.4 442.9,603.5 444.9,603.5 446.9,603.6 448.9,603.7 450.9,603.8 452.9,603.9 454.9,603.9 456.9,604 458.9,604.1 460.9,604.2 462.9,604.4 464.9,604.5 466.9,604.6 468.9,604.7 470.9,604.9 472.9,605.1 474.9,605.2 476.9,605.4 478.9,605.6 480.9,605.8 482.9,606.1 484.9,606.3 486.9,606.5 488.9,606.7 490.9,607 492.9,607.2 494.9,607.4 496.9,607.6 498.9,607.9 500.9,608.1 502.9,608.4 504.9,608.7 506.9,609 508.9,609.3 510.9,609.6 512.9,610 514.9,610.4 516.9,610.8 518.9,611.3 520.9,611.8 522.9,612.3 524.9,612.8 526.9,613.4 528.9,614 530.9,614.6 532.9,615.2 534.9,615.8 536.9,616.5 538.9,617.2 540.9,618 542.9,618.7 544.9,619.5 546.9,620.3 548.9,621.1 550.9,622 552.9,622.8 554.9,623.7 556.9,624.6 558.9,625.5 560.9,626.4 562.9,627.4 564.9,628.4 566.9,629.3 568.9,630.3 570.9,631.2 572.9,632.1 574.9,633 576.9,633.9 578.9,634.8 580.9,635.6 582.9,636.5 584.9,637.3 586.9,638.1 588.9,638.9 590.9,639.6 592.9,640.3 594.9,640.9 596.9,641.5 598.9,642.1 600.9,642.6 602.9,643.1 604.9,643.6 606.9,644.1 608.9,644.5 610.9,645 612.9,645.4 614.9,645.8 616.9,646.3 618.9,646.7 620.9,647.1 622.9,647.5 624.9,647.9 626.9,648.3 628.9,648.7 630.9,649 632.9,649.4 634.9,649.7 636.9,650 638.9,650.3 640.9,650.6 642.9,650.9 644.9,651.2 646.9,651.4 648.9,651.7 650.9,651.9 652.9,652.1 654.9,652.3 656.9,652.5 658.9,652.7 660.9,652.9 662.9,653.1 664.9,653.2 666.9,653.4 668.9,653.5 670.9,653.6 672.9,653.7 674.9,653.9 676.9,654 678.9,654 680.4,654.1 L680.4,654.4 678.9,654.4 676.9,654.3 674.9,654.2 672.9,654.1 670.9,654 668.9,653.9 666.9,653.8 664.9,653.6 662.9,653.5 660.9,653.4 658.9,653.2 656.9,653 654.9,652.9 652.9,652.7 650.9,652.5 648.9,652.3 646.9,652.1 644.9,651.8 642.9,651.6 640.9,651.3 638.9,651.1 636.9,650.8 634.9,650.5 632.9,650.2 630.9,649.9 628.9,649.6 626.9,649.2 624.9,648.9 622.9,648.5 620.9,648.2 618.9,647.8 616.9,647.4 614.9,647 612.9,646.7 610.9,646.3 608.9,645.9 606.9,645.5 604.9,645.1 602.9,644.6 600.9,644.2 598.9,643.7 596.9,643.2 594.9,642.7 592.9,642.1 590.9,641.5 588.9,640.8 586.9,640.1 584.9,639.4 582.9,638.6 580.9,637.9 578.9,637.1 576.9,636.3 574.9,635.6 572.9,634.8 570.9,634 568.9,633.1 566.9,632.3 564.9,631.4 562.9,630.5 560.9,629.7 558.9,628.8 556.9,628 554.9,627.2 552.9,626.4 550.9,625.7 548.9,624.9 546.9,624.2 544.9,623.5 542.9,622.8 540.9,622.1 538.9,621.4 536.9,620.8 534.9,620.2 532.9,619.6 530.9,619 528.9,618.5 526.9,618 524.9,617.5 522.9,617 520.9,616.5 518.9,616.1 516.9,615.7 514.9,615.3 512.9,614.9 510.9,614.6 508.9,614.3 506.9,614 504.9,613.7 502.9,613.5 500.9,613.3 498.9,613 496.9,612.8 494.9,612.6 492.9,612.4 490.9,612.2 488.9,612 486.9,611.8 484.9,611.6 482.9,611.4 480.9,611.2 478.9,611 476.9,610.8 474.9,610.7 472.9,610.5 470.9,610.4 468.9,610.2 466.9,610.1 464.9,610 462.9,609.9 460.9,609.8 458.9,609.7 456.9,609.6 454.9,609.5 452.9,609.4 450.9,609.4 448.9,609.3 446.9,609.2 444.9,609.1 442.9,609.1 440.9,609 438.9,608.9 436.9,608.9 434.9,608.8 432.9,608.8 430.9,608.7 428.9,608.7 426.9,608.7 424.9,608.7 422.9,608.7 420.9,608.7 418.9,608.8 416.9,608.8 414.9,608.9 412.9,609 410.9,609.2 408.9,609.3 406.9,609.4 404.9,609.5 402.9,609.7 400.9,609.8 398.9,610 396.9,610.2 394.9,610.4 392.9,610.7 390.9,610.9 388.9,611.2 386.9,611.5 384.9,611.7 382.9,612 380.9,612.3 378.9,612.6 376.9,613 374.9,613.3 372.9,613.7 370.9,614 368.9,614.4 366.9,614.8 364.9,615.2 362.9,615.6 360.9,615.9 358.9,616.3 356.9,616.7 354.9,617.1 352.9,617.5 350.9,618 348.9,618.4 346.9,618.8 344.9,619.2 342.9,619.6 340.9,620 338.9,620.4 336.9,620.9 334.9,621.3 332.9,621.7 330.9,622.1 328.9,622.5 326.9,622.9 324.9,623.3 322.9,623.7 320.9,624.1 318.9,624.5 316.9,624.9 314.9,625.3 312.9,625.7 310.9,626 308.9,626.4 306.9,626.8 304.9,627.1 302.9,627.5 300.9,627.8 298.9,628.1 296.9,628.4 294.9,628.7 292.9,629 290.9,629.3 288.9,629.6 286.9,629.9 284.9,630.2 282.9,630.4 280.9,630.7 278.9,630.9 276.9,631.1 274.9,631.2 272.9,631.4 270.9,631.5 268.9,631.6 266.9,631.7 264.9,631.8 262.9,632 260.9,632.1 258.9,632.2 256.9,632.3 254.9,632.5 252.9,632.7 250.9,632.9 248.9,633.1 246.9,633.3 244.9,633.5 242.9,633.8 240.9,634 238.9,634.3 236.9,634.6 234.9,635 232.9,635.3 230.9,635.7 228.9,636.2 226.9,636.7 224.9,637.3 222.9,637.9 220.9,638.7 218.9,639.5 216.9,640.3 214.9,641.2 212.9,642.2 210.9,643.1 208.9,644.1 206.9,645.1 204.9,646.1 202.9,647.1 200.9,648.1 198.9,649.1 196.9,650 194.9,650.9 192.9,651.7 190.9,652.4 188.9,653.1 186.9,653.6 184.9,654.2 182.9,654.7 180.9,655.1 178.9,655.4 176.9,655.7 174.9,656 172.9,656.3 170.9,656.5 168.9,656.6 166.9,656.8 164.9,656.9 162.9,657 160.9,657.1 158.9,657.1 156.9,657.2 154.9,657.2 152.9,657.3 150.9,657.3 148.9,657.3 146.9,657.3 144.9,657.3 142.9,657.3 140.9,657.4 138.9,657.4 136.9,657.4 134.9,657.4 132.9,657.4 130.9,657.4 128.9,657.4 126.9,657.4 124.9,657.4 122.9,657.4 120.9,657.4 118.9,657.4 116.9,657.4 114.9,657.4 112.9,657.4 110.9,657.4 108.9,657.4 106.9,657.4 104.9,657.4 102.9,657.4 100.9,657.4 98.9,657.4 96.9,657.4 94.9,657.4 92.9,657.4 90.9,657.4 88.9,657.4 86.9,657.4 84.9,657.4 82.9,657.4 80.9,657.4 78.9,657.4 76.9,657.4 74.9,657.4 72.9,657.4 70.9,657.4 68.9,657.4 66.9,657.4 64.9,657.4 62.9,657.4 60.9,657.4 58.9,657.4 56.9,657.4 54.9,657.4 52.9,657.4 50.9,657.4 48.9,657.4Z" fill="#0a0a94" fill-opacity=".3" stroke="#0a0a94" stroke-opacity=".3" stroke-width=".8"/>
<path d="M48.9,657.4 50.9,657.4 52.9,657.4 54.9,657.4 56.9,657.4 58.9,657.4 60.9,657.4 62.9,657.4 64.9,657.4 66.9,657.4 68.9,657.4 70.9,657.4 72.9,657.4 74.9,657.4 76.9,657.4 78.9,657.4 80.9,657.4 82.9,657.4 84.9,657.4 86.9,657.4 88.9,657.4 90.9,657.4 92.9,657.4 94.9,657.4 96.9,657.4 98.9,657.4 100.9,657.4 102.9,657.4 104.9,657.4 106.9,657.4 108.9,657.4 110.9,657.4 112.9,657.4 114.9,657.4 116.9,657.4 118.9,657.4 120.9,657.4 122.9,657.4 124.9,657.4 126.9,657.4 128.9,657.4 130.9,657.4 132.9,657.4 134.9,657.4 136.9,657.4 138.9,657.4 140.9,657.4 142.9,657.3 144.9,657.3 146.9,657.3 148.9,657.3 150.9,657.3 152.9,657.2 154.9,657.2 156.9,657.2 158.9,657.1 160.9,657 162.9,657 164.9,656.8 166.9,656.7 168.9,656.6 170.9,656.4 172.9,656.2 174.9,655.9 176.9,655.6 178.9,655.3 180.9,654.9 182.9,654.5 184.9,654 186.9,653.4 188.9,652.8 190.9,652.1 192.9,651.3 194.9,650.5 196.9,649.6 198.9,648.6 200.9,647.6 202.9,646.5 204.9,645.5 206.9,644.4 208.9,643.4 210.9,642.3 212.9,641.3 214.9,640.3 216.9,639.3 218.9,638.4 220.9,637.6 222.9,636.8 224.9,636.1 226.9,635.5 228.9,635 230.9,634.5 232.9,634 234.9,633.6 236.9,633.3 238.9,633 240.9,632.7 242.9,632.4 244.9,632.1 246.9,631.9 248.9,631.6 250.9,631.4 252.9,631.2 254.9,631 256.9,630.9 258.9,630.7 260.9,630.6 262.9,630.5 264.9,630.4 266.9,630.2 268.9,630.1 270.9,630 272.9,629.9 274.9,629.7 276.9,629.5 278.9,629.3 280.9,629.1 282.9,628.9 284.9,628.6 286.9,628.3 288.9,628 290.9,627.7 292.9,627.4 294.9,627.1 296.9,626.7 298.9,626.4 300.9,626.1 302.9,625.7 304.9,625.3 306.9,625 308.9,624.6 310.9,624.2 312.9,623.8 314.9,623.4 316.9,623 318.9,622.6 320.9,622.2 322.9,621.8 324.9,621.4 326.9,620.9 328.9,620.5 330.9,620.1 332.9,619.6 334.9,619.2 336.9,618.7 338.9,618.3 340.9,617.9 342.9,617.4 344.9,617 346.9,616.5 348.9,616.1 350.9,615.7 352.9,615.2 354.9,614.8 356.9,614.4 358.9,613.9 360.9,613.5 362.9,613.1 364.9,612.7 366.9,612.3 368.9,611.9 370.9,611.5 372.9,611.1 374.9,610.7 376.9,610.4 378.9,610 380.9,609.7 382.9,609.4 384.9,609.1 386.9,608.8 388.9,608.5 390.9,608.2 392.9,608 394.9,607.7 396.9,607.5 398.9,607.3 400.9,607.1 402.9,606.9 404.9,606.7 406.9,606.6 408.9,606.5 410.9,606.3 412.9,606.2 414.9,606.1 416.9,606 418.9,605.9 420.9,605.9 422.9,605.8 424.9,605.8 426.9,605.8 428.9,605.8 430.9,605.9 432.9,605.9 434.9,606 436.9,606 438.9,606.1 440.9,606.2 442.9,606.3 444.9,606.3 446.9,606.4 448.9,606.5 450.9,606.6 452.9,606.6 454.9,606.7 456.9,606.8 458.9,606.9 460.9,607 462.9,607.1 464.9,607.2 466.9,607.3 468.9,607.5 470.9,607.6 472.9,607.8 474.9,608 476.9,608.1 478.9,608.3 480.9,608.5 482.9,608.7 484.9,609 486.9,609.2 488.9,609.4 490.9,609.6 492.9,609.8 494.9,610 496.9,610.2 498.9,610.5 500.9,610.7 502.9,610.9 504.9,611.2 506.9,611.5 508.9,611.8 510.9,612.1 512.9,612.5 514.9,612.8 516.9,613.3 518.9,613.7 520.9,614.2 522.9,614.7 524.9,615.2 526.9,615.7 528.9,616.2 530.9,616.8 532.9,617.4 534.9,618 536.9,618.6 538.9,619.3 540.9,620 542.9,620.7 544.9,621.5 546.9,622.3 548.9,623 550.9,623.8 552.9,624.6 554.9,625.4 556.9,626.3 558.9,627.2 560.9,628.1 562.9,629 564.9,629.9 566.9,630.8 568.9,631.7 570.9,632.6 572.9,633.4 574.9,634.3 576.9,635.1 578.9,635.9 580.9,636.7 582.9,637.6 584.9,638.3 586.9,639.1 588.9,639.8 590.9,640.5 592.9,641.2 594.9,641.8 596.9,642.4 598.9,642.9 600.9,643.4 602.9,643.9 604.9,644.3 606.9,644.8 608.9,645.2 610.9,645.6 612.9,646 614.9,646.4 616.9,646.8 618.9,647.2 620.9,647.6 622.9,648 624.9,648.4 626.9,648.8 628.9,649.1 630.9,649.5 632.9,649.8 634.9,650.1 636.9,650.4 638.9,650.7 640.9,651 642.9,651.3 644.9,651.5 646.9,651.7 648.9,652 650.9,652.2 652.9,652.4 654.9,652.6 656.9,652.8 658.9,653 660.9,653.1 662.9,653.3 664.9,653.4 666.9,653.6 668.9,653.7 670.9,653.8 672.9,653.9 674.9,654 676.9,654.1 678.9,654.2 680.4,654.3" stroke="#0a0a94"/>
<path d="M48.9,657.4 50.9,657.4 52.9,657.4 54.9,657.4 56.9,657.4 58.9,657.4 60.9,657.4 62.9,657.4 64.9,657.4 66.9,657.4 68.9,657.4 70.9,657.4 72.9,657.4 74.9,657.4 76.9,657.4 78.9,657.4 80.9,657.4 82.9,657.4 84.9,657.4 86.9,657.4 88.9,657.4 90.9,657.4 92.9,657.4 94.9,657.4 96.9,657.4 98.9,657.4 100.9,657.4 102.9,657.4 104.9,657.4 106.9,657.4 108.9,657.4 110.9,657.4 112.9,657.4 114.9,657.4 116.9,657.4 118.9,657.4 120.9,657.4 122.9,657.4 124.9,657.4 126.9,657.4 128.9,657.4 130.9,657.4 132.9,657.4 134.9,657.4 136.9,657.4 138.9,657.4 140.9,657.4 142.9,657.3 144.9,657.3 146.9,657.3 148.9,657.3 150.9,657.3 152.9,657.2 154.9,657.2 156.9,657.2 158.9,657.1 160.9,657 162.9,657 164.9,656.8 166.9,656.7 168.9,656.6 170.9,656.4 172.9,656.2 174.9,655.9 176.9,655.6 178.9,655.3 180.9,654.9 182.9,654.5 184.9,654 186.9,653.4 188.9,652.8 190.9,652.1 192.9,651.3 194.9,650.5 196.9,649.5 198.9,648.6 200.9,647.6 202.9,646.6 204.9,645.5 206.9,644.5 208.9,643.5 210.9,642.5 212.9,641.5 214.9,640.5 216.9,639.6 218.9,638.7 220.9,637.9 222.9,637.2 224.9,636.5 226.9,636 228.9,635.4 230.9,635 232.9,634.5 234.9,634.2 236.9,633.8 238.9,633.5 240.9,633.2 242.9,632.9 244.9,632.6 246.9,632.4 248.9,632.2 250.9,632 252.9,631.8 254.9,631.6 256.9,631.5 258.9,631.4 260.9,631.3 262.9,631.2 264.9,631.1 266.9,631 268.9,631 270.9,630.9 272.9,630.8 274.9,630.7 276.9,630.6 278.9,630.4 280.9,630.3 282.9,630.1 284.9,629.9 286.9,629.8 288.9,629.6 290.9,629.4 292.9,629.1 294.9,628.9 296.9,628.7 298.9,628.4 300.9,628.1 302.9,627.8 304.9,627.5 306.9,627.2 308.9,626.8 310.9,626.4 312.9,626.1 314.9,625.7 316.9,625.4 318.9,625 320.9,624.7 322.9,624.4 324.9,624.1 326.9,623.8 328.9,623.4 330.9,623.1 332.9,622.8 334.9,622.5 336.9,622.2 338.9,621.8 340.9,621.5 342.9,621.1 344.9,620.7 346.9,620.3 348.9,619.9 350.9,619.5 352.9,619.1 354.9,618.7 356.9,618.3 358.9,617.9 360.9,617.5 362.9,617.1 364.9,616.8 366.9,616.4 368.9,616 370.9,615.6 372.9,615.2 374.9,614.9 376.9,614.5 378.9,614.2 380.9,613.9 382.9,613.6 384.9,613.3 386.9,613.1 388.9,612.8 390.9,612.6 392.9,612.3 394.9,612.1 396.9,611.9 398.9,611.7 400.9,611.6 402.9,611.4 404.9,611.2 406.9,611.1 408.9,611 410.9,610.8 412.9,610.7 414.9,610.6 416.9,610.5 418.9,610.4 420.9,610.3 422.9,610.2 424.9,610.2 426.9,610.2 428.9,610.2 430.9,610.2 432.9,610.3 434.9,610.3 436.9,610.4 438.9,610.4 440.9,610.5 442.9,610.5 444.9,610.6 446.9,610.6 448.9,610.7 450.9,610.7 452.9,610.8 454.9,610.9 456.9,611 458.9,611 460.9,611.1 462.9,611.2 464.9,611.3 466.9,611.4 468.9,611.4 470.9,611.5 472.9,611.6 474.9,611.6 476.9,611.7 478.9,611.8 480.9,611.8 482.9,611.9 484.9,612 486.9,612.1 488.9,612.2 490.9,612.3 492.9,612.4 494.9,612.6 496.9,612.7 498.9,612.9 500.9,613 502.9,613.2 504.9,613.4 506.9,613.6 508.9,613.8 510.9,614.1 512.9,614.3 514.9,614.6 516.9,615 518.9,615.3 520.9,615.7 522.9,616.1 524.9,616.5 526.9,616.9 528.9,617.4 530.9,617.8 532.9,618.3 534.9,618.8 536.9,619.4 538.9,619.9 540.9,620.5 542.9,621.1 544.9,621.7 546.9,622.4 548.9,623 550.9,623.7 552.9,624.4 554.9,625.1 556.9,625.9 558.9,626.7 560.9,627.5 562.9,628.3 564.9,629.2 566.9,630 568.9,630.9 570.9,631.7 572.9,632.5 574.9,633.3 576.9,634 578.9,634.8 580.9,635.6 582.9,636.3 584.9,637 586.9,637.8 588.9,638.5 590.9,639.1 592.9,639.8 594.9,640.4 596.9,641 598.9,641.6 600.9,642.1 602.9,642.7 604.9,643.2 606.9,643.7 608.9,644.2 610.9,644.7 612.9,645.1 614.9,645.6 616.9,646 618.9,646.5 620.9,646.9 622.9,647.3 624.9,647.7 626.9,648.1 628.9,648.5 630.9,648.8 632.9,649.2 634.9,649.5 636.9,649.8 638.9,650.1 640.9,650.4 642.9,650.7 644.9,651 646.9,651.2 648.9,651.5 650.9,651.7 652.9,651.9 654.9,652.1 656.9,652.4 658.9,652.6 660.9,652.8 662.9,653 664.9,653.1 666.9,653.3 668.9,653.5 670.9,653.7 672.9,653.8 674.9,654 676.9,654.1 678.9,654.3 680.4,654.3" stroke="#0a0a94" stroke-dasharray="3.7 1.6"/>
</g>
<path d="M42.5,485.1 H680.5 V657.4 H42.5 Z" fill="none" stroke="#2e2e2e" stroke-width=".9"/>
<path d="M552.9,654 V657.4" stroke="#111" stroke-width="1.2"/>
<text x="361.5" y="480.2" font-size="12.4" text-anchor="middle" textLength="157.6" lengthAdjust="spacingAndGlyphs">Game against clubs on Cluster 3</text>
<text x="361.5" y="688.5" font-size="12" text-anchor="middle" textLength="100.5" lengthAdjust="spacingAndGlyphs">Time relative to game</text>
<text transform="translate(9.2,571.2) rotate(-90)" font-size="13" font-style="italic" stroke-width=".12" text-anchor="middle" textLength="21.5" lengthAdjust="spacingAndGlyphs">β(t)</text>
<text x="42.5" y="673.5" font-size="10.3" text-anchor="middle" textLength="17.9" lengthAdjust="spacingAndGlyphs">-120</text>
<text x="106.3" y="673.5" font-size="10.3" text-anchor="middle" textLength="18.5" lengthAdjust="spacingAndGlyphs">-105</text>
<text x="170.1" y="673.5" font-size="10.3" text-anchor="middle" textLength="14.7" lengthAdjust="spacingAndGlyphs">-90</text>
<text x="233.9" y="673.5" font-size="10.3" text-anchor="middle" textLength="13.5" lengthAdjust="spacingAndGlyphs">-75</text>
<text x="297.7" y="673.5" font-size="10.3" text-anchor="middle" textLength="14.1" lengthAdjust="spacingAndGlyphs">-60</text>
<text x="361.5" y="673.5" font-size="10.3" text-anchor="middle" textLength="14.1" lengthAdjust="spacingAndGlyphs">-45</text>
<text x="425.3" y="673.5" font-size="10.3" text-anchor="middle" textLength="13.8" lengthAdjust="spacingAndGlyphs">-30</text>
<text x="489.1" y="673.5" font-size="10.3" text-anchor="middle" textLength="12.2" lengthAdjust="spacingAndGlyphs">-15</text>
<text x="552.9" y="673.5" font-size="10.3" text-anchor="middle" textLength="5.6" lengthAdjust="spacingAndGlyphs">0</text>
<text x="616.7" y="673.5" font-size="10.3" text-anchor="middle" textLength="9.5" lengthAdjust="spacingAndGlyphs">15</text>
<text x="680.5" y="673.5" font-size="10.3" text-anchor="middle" textLength="10.4" lengthAdjust="spacingAndGlyphs">30</text>
<text x="35.5" y="661.4" font-size="10.3" text-anchor="end" textLength="5.5" lengthAdjust="spacingAndGlyphs">0</text>
<text x="35.5" y="626.9" font-size="10.3" text-anchor="end" textLength="14.7" lengthAdjust="spacingAndGlyphs">250</text>
<text x="35.5" y="592.5" font-size="10.3" text-anchor="end" textLength="15.3" lengthAdjust="spacingAndGlyphs">500</text>
<text x="35.5" y="558" font-size="10.3" text-anchor="end" textLength="14.2" lengthAdjust="spacingAndGlyphs">750</text>
<text x="35.5" y="523.6" font-size="10.3" text-anchor="end" textLength="19.7" lengthAdjust="spacingAndGlyphs">1000</text>
<text x="35.5" y="489.1" font-size="10.3" text-anchor="end" textLength="17.8" lengthAdjust="spacingAndGlyphs">1250</text>
</g>
<g>
<path d="M106.3,719.9 V892.4 M170.1,719.9 V892.4 M233.9,719.9 V892.4 M297.7,719.9 V892.4 M361.5,719.9 V892.4 M425.3,719.9 V892.4 M489.1,719.9 V892.4 M552.9,719.9 V892.4 M616.7,719.9 V892.4 M42.5,858 H680.5 M42.5,823.5 H680.5 M42.5,789.1 H680.5 M42.5,754.6 H680.5" stroke="#f5f5f5" stroke-width="1" fill="none"/>
<clipPath id="c3"><rect x="43" y="719.9" width="637" height="173"/></clipPath><g clip-path="url(#c3)" fill="none" stroke-width="1.2">
<path d="M48.9,892.3 50.9,892.3 52.9,892.3 54.9,892.3 56.9,892.3 58.9,892.3 60.9,892.3 62.9,892.3 64.9,892.3 66.9,892.3 68.9,892.3 70.9,892.3 72.9,892.3 74.9,892.3 76.9,892.3 78.9,892.3 80.9,892.3 82.9,892.3 84.9,892.3 86.9,892.3 88.9,892.3 90.9,892.3 92.9,892.3 94.9,892.3 96.9,892.3 98.9,892.3 100.9,892.3 102.9,892.3 104.9,892.3 106.9,892.3 108.9,892.3 110.9,892.3 112.9,892.3 114.9,892.3 116.9,892.3 118.9,892.3 120.9,892.3 122.9,892.3 124.9,892.3 126.9,892.3 128.9,892.3 130.9,892.3 132.9,892.3 134.9,892.3 136.9,892.3 138.9,892.3 140.9,892.3 142.9,892.3 144.9,892.3 146.9,892.3 148.9,892.3 150.9,892.3 152.9,892.3 154.9,892.3 156.9,892.3 158.9,892.3 160.9,892.3 162.9,892.2 164.9,892.2 166.9,892.2 168.9,892.2 170.9,892.2 172.9,892.1 174.9,892.1 176.9,892 178.9,892 180.9,891.9 182.9,891.8 184.9,891.7 186.9,891.6 188.9,891.5 190.9,891.3 192.9,891.2 194.9,891.1 196.9,890.9 198.9,890.8 200.9,890.6 202.9,890.5 204.9,890.3 206.9,890.2 208.9,890 210.9,889.8 212.9,889.7 214.9,889.5 216.9,889.3 218.9,889.1 220.9,888.9 222.9,888.7 224.9,888.5 226.9,888.3 228.9,888.1 230.9,887.9 232.9,887.8 234.9,887.6 236.9,887.5 238.9,887.4 240.9,887.2 242.9,887.1 244.9,887 246.9,886.9 248.9,886.8 250.9,886.7 252.9,886.6 254.9,886.5 256.9,886.4 258.9,886.4 260.9,886.3 262.9,886.2 264.9,886.1 266.9,886.1 268.9,886 270.9,885.9 272.9,885.9 274.9,885.8 276.9,885.7 278.9,885.5 280.9,885.4 282.9,885.3 284.9,885.1 286.9,884.9 288.9,884.8 290.9,884.6 292.9,884.4 294.9,884.2 296.9,884.1 298.9,883.9 300.9,883.7 302.9,883.5 304.9,883.4 306.9,883.2 308.9,883 310.9,882.8 312.9,882.6 314.9,882.5 316.9,882.3 318.9,882.1 320.9,881.9 322.9,881.8 324.9,881.6 326.9,881.5 328.9,881.3 330.9,881.2 332.9,881 334.9,880.8 336.9,880.6 338.9,880.4 340.9,880.2 342.9,880 344.9,879.7 346.9,879.5 348.9,879.2 350.9,878.9 352.9,878.6 354.9,878.3 356.9,877.9 358.9,877.6 360.9,877.2 362.9,876.8 364.9,876.3 366.9,875.9 368.9,875.3 370.9,874.8 372.9,874.2 374.9,873.6 376.9,873 378.9,872.3 380.9,871.7 382.9,871.1 384.9,870.4 386.9,869.7 388.9,869 390.9,868.3 392.9,867.5 394.9,866.8 396.9,866 398.9,865.2 400.9,864.4 402.9,863.7 404.9,862.9 406.9,862 408.9,861.2 410.9,860.4 412.9,859.6 414.9,858.7 416.9,857.9 418.9,857 420.9,856.2 422.9,855.3 424.9,854.5 426.9,853.7 428.9,852.9 430.9,852.1 432.9,851.3 434.9,850.5 436.9,849.7 438.9,848.9 440.9,848 442.9,847.2 444.9,846.3 446.9,845.3 448.9,844.3 450.9,843.3 452.9,842.2 454.9,841.1 456.9,840 458.9,838.8 460.9,837.5 462.9,836.3 464.9,834.9 466.9,833.5 468.9,832.1 470.9,830.5 472.9,828.9 474.9,827.2 476.9,825.4 478.9,823.6 480.9,821.7 482.9,819.8 484.9,817.8 486.9,815.7 488.9,813.7 490.9,811.5 492.9,809.3 494.9,807 496.9,804.7 498.9,802.3 500.9,799.9 502.9,797.4 504.9,794.9 506.9,792.3 508.9,789.8 510.9,787.2 512.9,784.6 514.9,782 516.9,779.6 518.9,777.3 520.9,775.2 522.9,773.3 524.9,771.7 526.9,770.2 528.9,768.9 530.9,768 532.9,767.3 534.9,766.9 536.9,766.8 538.9,767 540.9,767.5 542.9,768.2 544.9,769.1 546.9,770.2 548.9,771.5 550.9,772.9 552.9,774.5 554.9,776.3 556.9,778.4 558.9,780.8 560.9,783.3 562.9,786.1 564.9,789.2 566.9,792.5 568.9,796 570.9,799.7 572.9,803.5 574.9,807.2 576.9,811 578.9,814.8 580.9,818.6 582.9,822.3 584.9,826 586.9,829.6 588.9,833.1 590.9,836.5 592.9,839.8 594.9,842.9 596.9,845.8 598.9,848.5 600.9,851.1 602.9,853.5 604.9,855.8 606.9,858 608.9,860 610.9,861.9 612.9,863.6 614.9,865.3 616.9,866.9 618.9,868.3 620.9,869.6 622.9,870.9 624.9,872.1 626.9,873.2 628.9,874.2 630.9,875.2 632.9,876.2 634.9,877 636.9,877.8 638.9,878.6 640.9,879.3 642.9,880 644.9,880.7 646.9,881.3 648.9,881.9 650.9,882.4 652.9,883 654.9,883.5 656.9,883.9 658.9,884.4 660.9,884.8 662.9,885.3 664.9,885.7 666.9,886.1 668.9,886.4 670.9,886.8 672.9,887.1 674.9,887.4 676.9,887.7 678.9,887.9 680.4,888.1" stroke="#8e0606"/>
<path d="M48.9,892.3 50.9,892.3 52.9,892.3 54.9,892.3 56.9,892.3 58.9,892.3 60.9,892.3 62.9,892.3 64.9,892.3 66.9,892.3 68.9,892.3 70.9,892.3 72.9,892.3 74.9,892.3 76.9,892.3 78.9,892.3 80.9,892.3 82.9,892.3 84.9,892.3 86.9,892.3 88.9,892.3 90.9,892.3 92.9,892.3 94.9,892.3 96.9,892.3 98.9,892.3 100.9,892.3 102.9,892.3 104.9,892.3 106.9,892.3 108.9,892.3 110.9,892.3 112.9,892.3 114.9,892.3 116.9,892.3 118.9,892.3 120.9,892.3 122.9,892.3 124.9,892.3 126.9,892.3 128.9,892.3 130.9,892.3 132.9,892.3 134.9,892.3 136.9,892.3 138.9,892.3 140.9,892.3 142.9,892.2 144.9,892.2 146.9,892.2 148.9,892.2 150.9,892.2 152.9,892.1 154.9,892.1 156.9,892.1 158.9,892 160.9,891.9 162.9,891.9 164.9,891.7 166.9,891.6 168.9,891.5 170.9,891.3 172.9,891.1 174.9,890.8 176.9,890.5 178.9,890.2 180.9,889.8 182.9,889.4 184.9,888.9 186.9,888.3 188.9,887.7 190.9,887 192.9,886.2 194.9,885.4 196.9,884.4 198.9,883.5 200.9,882.5 202.9,881.5 204.9,880.4 206.9,879.4 208.9,878.4 210.9,877.4 212.9,876.4 214.9,875.4 216.9,874.5 218.9,873.6 220.9,872.8 222.9,872.1 224.9,871.4 226.9,870.9 228.9,870.3 230.9,869.9 232.9,869.4 234.9,869.1 236.9,868.7 238.9,868.4 240.9,868.1 242.9,867.8 244.9,867.5 246.9,867.3 248.9,867.1 250.9,866.9 252.9,866.7 254.9,866.5 256.9,866.4 258.9,866.3 260.9,866.2 262.9,866.1 264.9,866 266.9,865.9 268.9,865.9 270.9,865.8 272.9,865.7 274.9,865.6 276.9,865.5 278.9,865.3 280.9,865.2 282.9,865 284.9,864.8 286.9,864.7 288.9,864.5 290.9,864.3 292.9,864 294.9,863.8 296.9,863.6 298.9,863.3 300.9,863 302.9,862.7 304.9,862.4 306.9,862.1 308.9,861.7 310.9,861.3 312.9,861 314.9,860.6 316.9,860.3 318.9,859.9 320.9,859.6 322.9,859.3 324.9,859 326.9,858.7 328.9,858.3 330.9,858 332.9,857.7 334.9,857.4 336.9,857.1 338.9,856.7 340.9,856.4 342.9,856 344.9,855.6 346.9,855.2 348.9,854.8 350.9,854.4 352.9,854 354.9,853.6 356.9,853.2 358.9,852.8 360.9,852.4 362.9,852 364.9,851.7 366.9,851.3 368.9,850.9 370.9,850.5 372.9,850.1 374.9,849.8 376.9,849.4 378.9,849.1 380.9,848.8 382.9,848.5 384.9,848.2 386.9,848 388.9,847.7 390.9,847.5 392.9,847.2 394.9,847 396.9,846.8 398.9,846.6 400.9,846.5 402.9,846.3 404.9,846.1 406.9,846 408.9,845.9 410.9,845.7 412.9,845.6 414.9,845.5 416.9,845.4 418.9,845.3 420.9,845.2 422.9,845.1 424.9,845.1 426.9,845.1 428.9,845.1 430.9,845.1 432.9,845.2 434.9,845.2 436.9,845.3 438.9,845.3 440.9,845.4 442.9,845.4 444.9,845.5 446.9,845.5 448.9,845.6 450.9,845.6 452.9,845.7 454.9,845.8 456.9,845.9 458.9,845.9 460.9,846 462.9,846.1 464.9,846.2 466.9,846.3 468.9,846.3 470.9,846.4 472.9,846.5 474.9,846.5 476.9,846.6 478.9,846.7 480.9,846.7 482.9,846.8 484.9,846.9 486.9,847 488.9,847.1 490.9,847.2 492.9,847.3 494.9,847.5 496.9,847.6 498.9,847.8 500.9,847.9 502.9,848.1 504.9,848.3 506.9,848.5 508.9,848.7 510.9,849 512.9,849.2 514.9,849.5 516.9,849.9 518.9,850.2 520.9,850.6 522.9,851 524.9,851.4 526.9,851.8 528.9,852.3 530.9,852.7 532.9,853.2 534.9,853.7 536.9,854.3 538.9,854.8 540.9,855.4 542.9,856 544.9,856.6 546.9,857.3 548.9,857.9 550.9,858.6 552.9,859.3 554.9,860 556.9,860.8 558.9,861.6 560.9,862.4 562.9,863.2 564.9,864.1 566.9,864.9 568.9,865.8 570.9,866.6 572.9,867.4 574.9,868.2 576.9,868.9 578.9,869.7 580.9,870.5 582.9,871.2 584.9,871.9 586.9,872.7 588.9,873.4 590.9,874 592.9,874.7 594.9,875.3 596.9,875.9 598.9,876.5 600.9,877 602.9,877.6 604.9,878.1 606.9,878.6 608.9,879.1 610.9,879.6 612.9,880 614.9,880.5 616.9,880.9 618.9,881.4 620.9,881.8 622.9,882.2 624.9,882.6 626.9,883 628.9,883.4 630.9,883.7 632.9,884.1 634.9,884.4 636.9,884.7 638.9,885 640.9,885.3 642.9,885.6 644.9,885.9 646.9,886.1 648.9,886.4 650.9,886.6 652.9,886.8 654.9,887 656.9,887.3 658.9,887.5 660.9,887.7 662.9,887.9 664.9,888 666.9,888.2 668.9,888.4 670.9,888.6 672.9,888.7 674.9,888.9 676.9,889 678.9,889.2 680.4,889.2" stroke="#0a0a94"/>
</g>
<path d="M42.5,719.9 H680.5 V892.4 H42.5 Z" fill="none" stroke="#2e2e2e" stroke-width=".9"/>
<path d="M552.9,889 V892.4" stroke="#111" stroke-width="1.2"/>
<text x="361.5" y="715.1" font-size="12.4" text-anchor="middle" textLength="157.6" lengthAdjust="spacingAndGlyphs">Game against clubs on Cluster 4</text>
<text x="361.5" y="923.4" font-size="12" text-anchor="middle" textLength="100.5" lengthAdjust="spacingAndGlyphs">Time relative to game</text>
<text transform="translate(9.2,806.1) rotate(-90)" font-size="13" font-style="italic" stroke-width=".12" text-anchor="middle" textLength="21.5" lengthAdjust="spacingAndGlyphs">β(t)</text>
<text x="42.5" y="908.4" font-size="10.3" text-anchor="middle" textLength="17.9" lengthAdjust="spacingAndGlyphs">-120</text>
<text x="106.3" y="908.4" font-size="10.3" text-anchor="middle" textLength="18.5" lengthAdjust="spacingAndGlyphs">-105</text>
<text x="170.1" y="908.4" font-size="10.3" text-anchor="middle" textLength="14.7" lengthAdjust="spacingAndGlyphs">-90</text>
<text x="233.9" y="908.4" font-size="10.3" text-anchor="middle" textLength="13.5" lengthAdjust="spacingAndGlyphs">-75</text>
<text x="297.7" y="908.4" font-size="10.3" text-anchor="middle" textLength="14.1" lengthAdjust="spacingAndGlyphs">-60</text>
<text x="361.5" y="908.4" font-size="10.3" text-anchor="middle" textLength="14.1" lengthAdjust="spacingAndGlyphs">-45</text>
<text x="425.3" y="908.4" font-size="10.3" text-anchor="middle" textLength="13.8" lengthAdjust="spacingAndGlyphs">-30</text>
<text x="489.1" y="908.4" font-size="10.3" text-anchor="middle" textLength="12.2" lengthAdjust="spacingAndGlyphs">-15</text>
<text x="552.9" y="908.4" font-size="10.3" text-anchor="middle" textLength="5.6" lengthAdjust="spacingAndGlyphs">0</text>
<text x="616.7" y="908.4" font-size="10.3" text-anchor="middle" textLength="9.5" lengthAdjust="spacingAndGlyphs">15</text>
<text x="680.5" y="908.4" font-size="10.3" text-anchor="middle" textLength="10.4" lengthAdjust="spacingAndGlyphs">30</text>
<text x="35.5" y="896.3" font-size="10.3" text-anchor="end" textLength="5.5" lengthAdjust="spacingAndGlyphs">0</text>
<text x="35.5" y="861.8" font-size="10.3" text-anchor="end" textLength="14.7" lengthAdjust="spacingAndGlyphs">250</text>
<text x="35.5" y="827.4" font-size="10.3" text-anchor="end" textLength="15.3" lengthAdjust="spacingAndGlyphs">500</text>
<text x="35.5" y="792.9" font-size="10.3" text-anchor="end" textLength="14.2" lengthAdjust="spacingAndGlyphs">750</text>
<text x="35.5" y="758.5" font-size="10.3" text-anchor="end" textLength="19.7" lengthAdjust="spacingAndGlyphs">1000</text>
<text x="35.5" y="724" font-size="10.3" text-anchor="end" textLength="17.8" lengthAdjust="spacingAndGlyphs">1250</text>
</g>
<rect x="49.5" y="22" width="141.5" height="82.4" rx="2.4" fill="#fff" fill-opacity=".8" stroke="#ccc" stroke-opacity=".8" stroke-width="1"/>
<path d="M54,32.4 H81.2" stroke="#8e0606" stroke-width="1.2"/>
<path d="M54,52.4 H81.2" stroke="#8e0606" stroke-width="1.2" stroke-dasharray="3.7 1.6"/>
<path d="M54,71.6 H81.2" stroke="#0a0a94" stroke-width="1.2"/>
<path d="M54,91.5 H81.2" stroke="#0a0a94" stroke-width="1.2" stroke-dasharray="3.7 1.6"/>
<text x="91.8" y="36.8" font-size="12" text-anchor="start" textLength="45.5" lengthAdjust="spacingAndGlyphs">Members</text>
<text x="91.8" y="56.6" font-size="12" text-anchor="start" textLength="93.4" lengthAdjust="spacingAndGlyphs">Members intercept</text>
<text x="91.8" y="76.2" font-size="12" text-anchor="start" textLength="37.1" lengthAdjust="spacingAndGlyphs">Visitors</text>
<text x="91.8" y="95.9" font-size="12" text-anchor="start" textLength="85.2" lengthAdjust="spacingAndGlyphs">Visitors intercept</text>
</svg></body></html>
